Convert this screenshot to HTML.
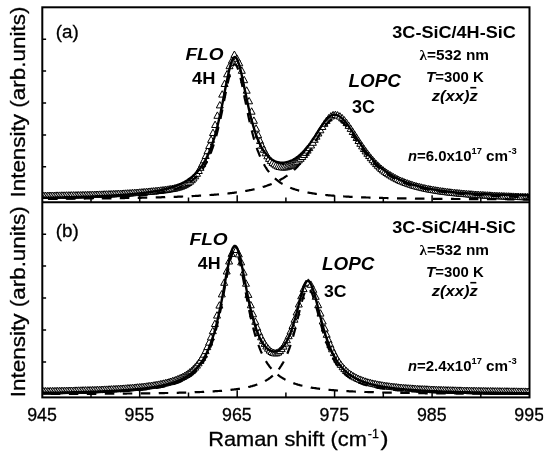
<!DOCTYPE html>
<html><head><meta charset="utf-8"><title>Raman spectra</title>
<style>html,body{margin:0;padding:0;background:#fff}svg{display:block}</style></head>
<body>
<svg width="550" height="459" viewBox="0 0 550 459">
<rect width="550" height="459" fill="#fff"/>
<defs><clipPath id="ca"><rect x="42.3" y="7.3" width="487.2" height="195.0"/></clipPath><clipPath id="cb"><rect x="42.3" y="202.35" width="487.2" height="195.0"/></clipPath><clipPath id="cr"><rect x="0" y="0" width="543.2" height="459"/></clipPath><path id="t" d="M-3.5,3.5L0,-2.9L3.5,3.5Z"/></defs>
<g clip-path="url(#ca)">
<g fill="#fff" stroke="#000" stroke-width="1" stroke-linejoin="miter"><use href="#t" x="42.2" y="195.0"/><use href="#t" x="43.9" y="195.0"/><use href="#t" x="45.6" y="195.0"/><use href="#t" x="47.4" y="195.0"/><use href="#t" x="49.1" y="194.9"/><use href="#t" x="50.9" y="194.9"/><use href="#t" x="52.6" y="194.9"/><use href="#t" x="54.3" y="194.9"/><use href="#t" x="56.1" y="194.8"/><use href="#t" x="57.8" y="194.8"/><use href="#t" x="59.6" y="194.8"/><use href="#t" x="61.3" y="194.7"/><use href="#t" x="63.0" y="194.7"/><use href="#t" x="64.8" y="194.7"/><use href="#t" x="66.5" y="194.6"/><use href="#t" x="68.3" y="194.6"/><use href="#t" x="70.0" y="194.6"/><use href="#t" x="71.7" y="194.5"/><use href="#t" x="73.5" y="194.5"/><use href="#t" x="75.2" y="194.5"/><use href="#t" x="77.0" y="194.4"/><use href="#t" x="78.7" y="194.4"/><use href="#t" x="80.4" y="194.4"/><use href="#t" x="82.2" y="194.3"/><use href="#t" x="83.9" y="194.3"/><use href="#t" x="85.7" y="194.2"/><use href="#t" x="87.4" y="194.2"/><use href="#t" x="89.1" y="194.1"/><use href="#t" x="90.9" y="194.1"/><use href="#t" x="92.6" y="194.0"/><use href="#t" x="94.4" y="194.0"/><use href="#t" x="96.1" y="193.9"/><use href="#t" x="97.8" y="193.9"/><use href="#t" x="99.6" y="193.8"/><use href="#t" x="101.3" y="193.8"/><use href="#t" x="103.1" y="193.7"/><use href="#t" x="104.8" y="193.6"/><use href="#t" x="106.5" y="193.6"/><use href="#t" x="108.3" y="193.5"/><use href="#t" x="110.0" y="193.4"/><use href="#t" x="111.8" y="193.4"/><use href="#t" x="113.5" y="193.3"/><use href="#t" x="115.2" y="193.2"/><use href="#t" x="117.0" y="193.1"/><use href="#t" x="118.7" y="193.0"/><use href="#t" x="120.5" y="193.0"/><use href="#t" x="122.2" y="192.9"/><use href="#t" x="123.9" y="192.8"/><use href="#t" x="125.7" y="192.7"/><use href="#t" x="127.4" y="192.6"/><use href="#t" x="129.2" y="192.5"/><use href="#t" x="130.9" y="192.4"/><use href="#t" x="132.6" y="192.2"/><use href="#t" x="134.4" y="192.1"/><use href="#t" x="136.1" y="192.0"/><use href="#t" x="137.9" y="191.9"/><use href="#t" x="139.6" y="191.7"/><use href="#t" x="141.3" y="191.6"/><use href="#t" x="143.1" y="191.4"/><use href="#t" x="144.8" y="191.3"/><use href="#t" x="146.6" y="191.1"/><use href="#t" x="148.3" y="191.0"/><use href="#t" x="150.0" y="190.8"/><use href="#t" x="151.8" y="190.6"/><use href="#t" x="153.5" y="190.5"/><use href="#t" x="155.3" y="190.3"/><use href="#t" x="157.0" y="190.1"/><use href="#t" x="158.7" y="189.9"/><use href="#t" x="160.5" y="189.7"/><use href="#t" x="162.2" y="189.5"/><use href="#t" x="164.0" y="189.3"/><use href="#t" x="165.7" y="189.1"/><use href="#t" x="167.4" y="188.8"/><use href="#t" x="169.2" y="188.5"/><use href="#t" x="170.9" y="188.2"/><use href="#t" x="172.7" y="187.9"/><use href="#t" x="174.4" y="187.6"/><use href="#t" x="176.1" y="187.2"/><use href="#t" x="177.9" y="186.7"/><use href="#t" x="179.6" y="186.2"/><use href="#t" x="181.4" y="185.6"/><use href="#t" x="183.1" y="184.9"/><use href="#t" x="184.8" y="184.1"/><use href="#t" x="186.6" y="183.1"/><use href="#t" x="188.3" y="182.0"/><use href="#t" x="190.1" y="180.7"/><use href="#t" x="191.8" y="179.2"/><use href="#t" x="193.5" y="177.5"/><use href="#t" x="195.3" y="175.3"/><use href="#t" x="197.0" y="172.8"/><use href="#t" x="198.8" y="170.0"/><use href="#t" x="200.5" y="166.8"/><use href="#t" x="202.2" y="163.2"/><use href="#t" x="204.0" y="159.3"/><use href="#t" x="205.7" y="155.0"/><use href="#t" x="207.5" y="150.2"/><use href="#t" x="209.2" y="145.0"/><use href="#t" x="211.1" y="138.9"/><use href="#t" x="213.0" y="132.0"/><use href="#t" x="215.1" y="124.0"/><use href="#t" x="217.4" y="114.8"/><use href="#t" x="219.8" y="104.4"/><use href="#t" x="222.2" y="93.6"/><use href="#t" x="224.6" y="83.0"/><use href="#t" x="227.1" y="73.3"/><use href="#t" x="229.5" y="65.2"/><use href="#t" x="232.0" y="59.5"/><use href="#t" x="234.4" y="53.9"/><use href="#t" x="236.9" y="57.8"/><use href="#t" x="239.3" y="62.3"/><use href="#t" x="241.8" y="69.8"/><use href="#t" x="244.2" y="79.2"/><use href="#t" x="246.7" y="89.7"/><use href="#t" x="249.1" y="100.3"/><use href="#t" x="251.6" y="110.7"/><use href="#t" x="253.9" y="119.8"/><use href="#t" x="256.1" y="127.7"/><use href="#t" x="258.2" y="134.3"/><use href="#t" x="260.1" y="140.0"/><use href="#t" x="262.0" y="144.8"/><use href="#t" x="263.8" y="148.8"/><use href="#t" x="265.5" y="152.3"/><use href="#t" x="267.3" y="155.3"/><use href="#t" x="269.0" y="157.9"/><use href="#t" x="270.8" y="160.1"/><use href="#t" x="272.5" y="161.9"/><use href="#t" x="274.3" y="163.3"/><use href="#t" x="276.0" y="164.5"/><use href="#t" x="277.8" y="165.4"/><use href="#t" x="279.5" y="166.0"/><use href="#t" x="281.3" y="166.3"/><use href="#t" x="283.0" y="166.5"/><use href="#t" x="284.8" y="166.4"/><use href="#t" x="286.6" y="166.2"/><use href="#t" x="288.3" y="165.7"/><use href="#t" x="290.1" y="165.1"/><use href="#t" x="291.8" y="164.3"/><use href="#t" x="293.6" y="163.3"/><use href="#t" x="295.3" y="162.2"/><use href="#t" x="297.1" y="160.9"/><use href="#t" x="298.8" y="159.4"/><use href="#t" x="300.6" y="157.8"/><use href="#t" x="302.3" y="156.0"/><use href="#t" x="304.1" y="154.0"/><use href="#t" x="305.8" y="151.9"/><use href="#t" x="307.6" y="149.6"/><use href="#t" x="309.3" y="147.1"/><use href="#t" x="311.1" y="144.5"/><use href="#t" x="312.9" y="141.8"/><use href="#t" x="314.7" y="138.8"/><use href="#t" x="316.5" y="135.7"/><use href="#t" x="318.4" y="132.5"/><use href="#t" x="320.4" y="129.3"/><use href="#t" x="322.4" y="126.0"/><use href="#t" x="324.5" y="122.8"/><use href="#t" x="326.6" y="119.9"/><use href="#t" x="328.7" y="117.4"/><use href="#t" x="330.9" y="115.5"/><use href="#t" x="333.1" y="114.3"/><use href="#t" x="335.4" y="114.0"/><use href="#t" x="337.6" y="114.5"/><use href="#t" x="339.9" y="115.6"/><use href="#t" x="342.1" y="117.3"/><use href="#t" x="344.3" y="119.5"/><use href="#t" x="346.5" y="122.1"/><use href="#t" x="348.6" y="124.9"/><use href="#t" x="350.7" y="127.9"/><use href="#t" x="352.7" y="131.0"/><use href="#t" x="354.7" y="134.0"/><use href="#t" x="356.6" y="137.0"/><use href="#t" x="358.5" y="140.0"/><use href="#t" x="360.3" y="142.8"/><use href="#t" x="362.1" y="145.4"/><use href="#t" x="363.9" y="148.0"/><use href="#t" x="365.6" y="150.4"/><use href="#t" x="367.4" y="152.8"/><use href="#t" x="369.1" y="155.0"/><use href="#t" x="370.8" y="157.2"/><use href="#t" x="372.6" y="159.2"/><use href="#t" x="374.3" y="161.2"/><use href="#t" x="376.1" y="163.1"/><use href="#t" x="377.8" y="164.8"/><use href="#t" x="379.5" y="166.5"/><use href="#t" x="381.3" y="168.1"/><use href="#t" x="383.0" y="169.5"/><use href="#t" x="384.8" y="170.8"/><use href="#t" x="386.5" y="172.0"/><use href="#t" x="388.2" y="173.2"/><use href="#t" x="390.0" y="174.3"/><use href="#t" x="391.7" y="175.4"/><use href="#t" x="393.5" y="176.4"/><use href="#t" x="395.2" y="177.3"/><use href="#t" x="396.9" y="178.2"/><use href="#t" x="398.7" y="179.1"/><use href="#t" x="400.4" y="179.9"/><use href="#t" x="402.2" y="180.6"/><use href="#t" x="403.9" y="181.3"/><use href="#t" x="405.6" y="182.0"/><use href="#t" x="407.4" y="182.6"/><use href="#t" x="409.1" y="183.2"/><use href="#t" x="410.9" y="183.8"/><use href="#t" x="412.6" y="184.4"/><use href="#t" x="414.3" y="184.9"/><use href="#t" x="416.1" y="185.4"/><use href="#t" x="417.8" y="185.9"/><use href="#t" x="419.6" y="186.3"/><use href="#t" x="421.3" y="186.7"/><use href="#t" x="423.0" y="187.2"/><use href="#t" x="424.8" y="187.5"/><use href="#t" x="426.5" y="187.9"/><use href="#t" x="428.3" y="188.3"/><use href="#t" x="430.0" y="188.6"/><use href="#t" x="431.7" y="188.9"/><use href="#t" x="433.5" y="189.2"/><use href="#t" x="435.2" y="189.5"/><use href="#t" x="437.0" y="189.8"/><use href="#t" x="438.7" y="190.1"/><use href="#t" x="440.4" y="190.4"/><use href="#t" x="442.2" y="190.6"/><use href="#t" x="443.9" y="190.8"/><use href="#t" x="445.7" y="191.1"/><use href="#t" x="447.4" y="191.3"/><use href="#t" x="449.1" y="191.5"/><use href="#t" x="450.9" y="191.7"/><use href="#t" x="452.6" y="191.9"/><use href="#t" x="454.4" y="192.1"/><use href="#t" x="456.1" y="192.3"/><use href="#t" x="457.8" y="192.4"/><use href="#t" x="459.6" y="192.6"/><use href="#t" x="461.3" y="192.8"/><use href="#t" x="463.1" y="192.9"/><use href="#t" x="464.8" y="193.1"/><use href="#t" x="466.5" y="193.2"/><use href="#t" x="468.3" y="193.4"/><use href="#t" x="470.0" y="193.5"/><use href="#t" x="471.8" y="193.6"/><use href="#t" x="473.5" y="193.8"/><use href="#t" x="475.2" y="193.9"/><use href="#t" x="477.0" y="194.0"/><use href="#t" x="478.7" y="194.1"/><use href="#t" x="480.5" y="194.2"/><use href="#t" x="482.2" y="194.3"/><use href="#t" x="483.9" y="194.4"/><use href="#t" x="485.7" y="194.6"/><use href="#t" x="487.4" y="194.6"/><use href="#t" x="489.2" y="194.7"/><use href="#t" x="490.9" y="194.8"/><use href="#t" x="492.6" y="194.9"/><use href="#t" x="494.4" y="195.0"/><use href="#t" x="496.1" y="195.1"/><use href="#t" x="497.9" y="195.2"/><use href="#t" x="499.6" y="195.3"/><use href="#t" x="501.3" y="195.3"/><use href="#t" x="503.1" y="195.4"/><use href="#t" x="504.8" y="195.5"/><use href="#t" x="506.6" y="195.6"/><use href="#t" x="508.3" y="195.6"/><use href="#t" x="510.0" y="195.7"/><use href="#t" x="511.8" y="195.8"/><use href="#t" x="513.5" y="195.8"/><use href="#t" x="515.3" y="195.9"/><use href="#t" x="517.0" y="195.9"/><use href="#t" x="518.7" y="196.0"/><use href="#t" x="520.5" y="196.1"/><use href="#t" x="522.2" y="196.1"/><use href="#t" x="524.0" y="196.2"/><use href="#t" x="525.7" y="196.2"/><use href="#t" x="527.4" y="196.3"/><use href="#t" x="529.2" y="196.3"/></g>
<path d="M42.3,198.7 L42.9,198.7 L43.5,198.7 L44.1,198.7 L44.7,198.7 L45.3,198.7 L46.0,198.7 L46.6,198.7 L47.2,198.6 L47.8,198.6 L48.4,198.6 L49.0,198.6 L49.6,198.6 L50.2,198.6 L50.8,198.6 L51.4,198.6 L52.1,198.6 L52.7,198.6 L53.3,198.6 L53.9,198.6 L54.5,198.5 L55.1,198.5 L55.7,198.5 L56.3,198.5 L56.9,198.5 L57.5,198.5 L58.2,198.5 L58.8,198.5 L59.4,198.5 L60.0,198.5 L60.6,198.5 L61.2,198.5 L61.8,198.4 L62.4,198.4 L63.0,198.4 L63.6,198.4 L64.3,198.4 L64.9,198.4 L65.5,198.4 L66.1,198.4 L66.7,198.4 L67.3,198.4 L67.9,198.3 L68.5,198.3 L69.1,198.3 L69.7,198.3 L70.3,198.3 L71.0,198.3 L71.6,198.3 L72.2,198.3 L72.8,198.3 L73.4,198.2 L74.0,198.2 L74.6,198.2 L75.2,198.2 L75.8,198.2 L76.4,198.2 L77.1,198.2 L77.7,198.2 L78.3,198.1 L78.9,198.1 L79.5,198.1 L80.1,198.1 L80.7,198.1 L81.3,198.1 L81.9,198.1 L82.5,198.1 L83.2,198.0 L83.8,198.0 L84.4,198.0 L85.0,198.0 L85.6,198.0 L86.2,198.0 L86.8,197.9 L87.4,197.9 L88.0,197.9 L88.6,197.9 L89.3,197.9 L89.9,197.9 L90.5,197.9 L91.1,197.8 L91.7,197.8 L92.3,197.8 L92.9,197.8 L93.5,197.8 L94.1,197.8 L94.7,197.7 L95.3,197.7 L96.0,197.7 L96.6,197.7 L97.2,197.7 L97.8,197.6 L98.4,197.6 L99.0,197.6 L99.6,197.6 L100.2,197.6 L100.8,197.5 L101.4,197.5 L102.1,197.5 L102.7,197.5 L103.3,197.5 L103.9,197.4 L104.5,197.4 L105.1,197.4 L105.7,197.4 L106.3,197.4 L106.9,197.3 L107.5,197.3 L108.2,197.3 L108.8,197.3 L109.4,197.2 L110.0,197.2 L110.6,197.2 L111.2,197.2 L111.8,197.1 L112.4,197.1 L113.0,197.1 L113.6,197.1 L114.3,197.0 L114.9,197.0 L115.5,197.0 L116.1,196.9 L116.7,196.9 L117.3,196.9 L117.9,196.9 L118.5,196.8 L119.1,196.8 L119.7,196.8 L120.3,196.7 L121.0,196.7 L121.6,196.7 L122.2,196.6 L122.8,196.6 L123.4,196.6 L124.0,196.5 L124.6,196.5 L125.2,196.5 L125.8,196.4 L126.4,196.4 L127.1,196.3 L127.7,196.3 L128.3,196.3 L128.9,196.2 L129.5,196.2 L130.1,196.2 L130.7,196.1 L131.3,196.1 L131.9,196.0 L132.5,196.0 L133.2,195.9 L133.8,195.9 L134.4,195.8 L135.0,195.8 L135.6,195.7 L136.2,195.7 L136.8,195.6 L137.4,195.6 L138.0,195.5 L138.6,195.5 L139.3,195.4 L139.9,195.4 L140.5,195.3 L141.1,195.3 L141.7,195.2 L142.3,195.2 L142.9,195.1 L143.5,195.0 L144.1,195.0 L144.7,194.9 L145.3,194.8 L146.0,194.8 L146.6,194.7 L147.2,194.6 L147.8,194.6 L148.4,194.5 L149.0,194.4 L149.6,194.4 L150.2,194.3 L150.8,194.2 L151.4,194.1 L152.1,194.0 L152.7,194.0 L153.3,193.9 L153.9,193.8 L154.5,193.7 L155.1,193.6 L155.7,193.5 L156.3,193.4 L156.9,193.3 L157.5,193.2 L158.2,193.1 L158.8,193.0 L159.4,192.9 L160.0,192.8 L160.6,192.7 L161.2,192.6 L161.8,192.5 L162.4,192.4 L163.0,192.3 L163.6,192.1 L164.3,192.0 L164.9,191.9 L165.5,191.7 L166.1,191.6 L166.7,191.5 L167.3,191.3 L167.9,191.2 L168.5,191.0 L169.1,190.9 L169.7,190.7 L170.4,190.6 L171.0,190.4 L171.6,190.2 L172.2,190.1 L172.8,189.9 L173.4,189.7 L174.0,189.5 L174.6,189.3 L175.2,189.1 L175.8,188.9 L176.4,188.7 L177.1,188.5 L177.7,188.3 L178.3,188.0 L178.9,187.8 L179.5,187.6 L180.1,187.3 L180.7,187.0 L181.3,186.8 L181.9,186.5 L182.5,186.2 L183.2,185.9 L183.8,185.6 L184.4,185.3 L185.0,185.0 L185.6,184.7 L186.2,184.3 L186.8,184.0 L187.4,183.6 L188.0,183.3 L188.6,182.9 L189.3,182.5 L189.9,182.1 L190.5,181.6 L191.1,181.2 L191.7,180.7 L192.3,180.3 L192.9,179.8 L193.5,179.3 L194.1,178.7 L194.7,178.2 L195.4,177.6 L196.0,177.1 L196.6,176.4 L197.2,175.8 L197.8,175.2 L198.4,174.5 L199.0,173.8 L199.6,173.0 L200.2,172.3 L200.8,171.5 L201.4,170.7 L202.1,169.8 L202.7,168.9 L203.3,168.0 L203.9,167.0 L204.5,166.0 L205.1,165.0 L205.7,163.9 L206.3,162.8 L206.9,161.6 L207.5,160.4 L208.2,159.1 L208.8,157.7 L209.4,156.3 L210.0,154.9 L210.6,153.4 L211.2,151.8 L211.8,150.2 L212.4,148.5 L213.0,146.7 L213.6,144.8 L214.3,142.9 L214.9,140.9 L215.5,138.8 L216.1,136.6 L216.7,134.4 L217.3,132.0 L217.9,129.6 L218.5,127.1 L219.1,124.5 L219.7,121.9 L220.4,119.1 L221.0,116.3 L221.6,113.5 L222.2,110.5 L222.8,107.5 L223.4,104.5 L224.0,101.4 L224.6,98.4 L225.2,95.3 L225.8,92.2 L226.4,89.2 L227.1,86.2 L227.7,83.3 L228.3,80.5 L228.9,77.9 L229.5,75.4 L230.1,73.1 L230.7,71.0 L231.3,69.2 L231.9,67.6 L232.5,66.3 L233.2,65.4 L233.8,64.7 L234.4,64.3 L235.0,64.3 L235.6,64.7 L236.2,65.3 L236.8,66.3 L237.4,67.5 L238.0,69.1 L238.6,70.9 L239.3,73.0 L239.9,75.3 L240.5,77.7 L241.1,80.4 L241.7,83.1 L242.3,86.0 L242.9,89.0 L243.5,92.0 L244.1,95.1 L244.7,98.2 L245.4,101.2 L246.0,104.3 L246.6,107.3 L247.2,110.3 L247.8,113.3 L248.4,116.2 L249.0,119.0 L249.6,121.7 L250.2,124.4 L250.8,127.0 L251.4,129.5 L252.1,131.9 L252.7,134.2 L253.3,136.5 L253.9,138.7 L254.5,140.7 L255.1,142.8 L255.7,144.7 L256.3,146.6 L256.9,148.3 L257.5,150.1 L258.2,151.7 L258.8,153.3 L259.4,154.8 L260.0,156.3 L260.6,157.7 L261.2,159.0 L261.8,160.3 L262.4,161.5 L263.0,162.7 L263.6,163.8 L264.3,164.9 L264.9,166.0 L265.5,167.0 L266.1,167.9 L266.7,168.9 L267.3,169.8 L267.9,170.6 L268.5,171.4 L269.1,172.2 L269.7,173.0 L270.4,173.7 L271.0,174.4 L271.6,175.1 L272.2,175.8 L272.8,176.4 L273.4,177.0 L274.0,177.6 L274.6,178.2 L275.2,178.7 L275.8,179.2 L276.4,179.7 L277.1,180.2 L277.7,180.7 L278.3,181.2 L278.9,181.6 L279.5,182.0 L280.1,182.5 L280.7,182.9 L281.3,183.2 L281.9,183.6 L282.5,184.0 L283.2,184.3 L283.8,184.7 L284.4,185.0 L285.0,185.3 L285.6,185.6 L286.2,185.9 L286.8,186.2 L287.4,186.5 L288.0,186.8 L288.6,187.0 L289.3,187.3 L289.9,187.5 L290.5,187.8 L291.1,188.0 L291.7,188.2 L292.3,188.5 L292.9,188.7 L293.5,188.9 L294.1,189.1 L294.7,189.3 L295.4,189.5 L296.0,189.7 L296.6,189.9 L297.2,190.0 L297.8,190.2 L298.4,190.4 L299.0,190.6 L299.6,190.7 L300.2,190.9 L300.8,191.0 L301.4,191.2 L302.1,191.3 L302.7,191.5 L303.3,191.6 L303.9,191.7 L304.5,191.9 L305.1,192.0 L305.7,192.1 L306.3,192.2 L306.9,192.4 L307.5,192.5 L308.2,192.6 L308.8,192.7 L309.4,192.8 L310.0,192.9 L310.6,193.0 L311.2,193.1 L311.8,193.2 L312.4,193.3 L313.0,193.4 L313.6,193.5 L314.3,193.6 L314.9,193.7 L315.5,193.8 L316.1,193.9 L316.7,194.0 L317.3,194.0 L317.9,194.1 L318.5,194.2 L319.1,194.3 L319.7,194.4 L320.4,194.4 L321.0,194.5 L321.6,194.6 L322.2,194.6 L322.8,194.7 L323.4,194.8 L324.0,194.8 L324.6,194.9 L325.2,195.0 L325.8,195.0 L326.4,195.1 L327.1,195.2 L327.7,195.2 L328.3,195.3 L328.9,195.3 L329.5,195.4 L330.1,195.4 L330.7,195.5 L331.3,195.5 L331.9,195.6 L332.5,195.6 L333.2,195.7 L333.8,195.7 L334.4,195.8 L335.0,195.8 L335.6,195.9 L336.2,195.9 L336.8,196.0 L337.4,196.0 L338.0,196.1 L338.6,196.1 L339.3,196.1 L339.9,196.2 L340.5,196.2 L341.1,196.3 L341.7,196.3 L342.3,196.3 L342.9,196.4 L343.5,196.4 L344.1,196.5 L344.7,196.5 L345.4,196.5 L346.0,196.6 L346.6,196.6 L347.2,196.6 L347.8,196.7 L348.4,196.7 L349.0,196.7 L349.6,196.8 L350.2,196.8 L350.8,196.8 L351.4,196.9 L352.1,196.9 L352.7,196.9 L353.3,196.9 L353.9,197.0 L354.5,197.0 L355.1,197.0 L355.7,197.1 L356.3,197.1 L356.9,197.1 L357.5,197.1 L358.2,197.2 L358.8,197.2 L359.4,197.2 L360.0,197.2 L360.6,197.3 L361.2,197.3 L361.8,197.3 L362.4,197.3 L363.0,197.4 L363.6,197.4 L364.3,197.4 L364.9,197.4 L365.5,197.4 L366.1,197.5 L366.7,197.5 L367.3,197.5 L367.9,197.5 L368.5,197.5 L369.1,197.6 L369.7,197.6 L370.4,197.6 L371.0,197.6 L371.6,197.6 L372.2,197.7 L372.8,197.7 L373.4,197.7 L374.0,197.7 L374.6,197.7 L375.2,197.8 L375.8,197.8 L376.4,197.8 L377.1,197.8 L377.7,197.8 L378.3,197.8 L378.9,197.9 L379.5,197.9 L380.1,197.9 L380.7,197.9 L381.3,197.9 L381.9,197.9 L382.5,197.9 L383.2,198.0 L383.8,198.0 L384.4,198.0 L385.0,198.0 L385.6,198.0 L386.2,198.0 L386.8,198.0 L387.4,198.1 L388.0,198.1 L388.6,198.1 L389.3,198.1 L389.9,198.1 L390.5,198.1 L391.1,198.1 L391.7,198.2 L392.3,198.2 L392.9,198.2 L393.5,198.2 L394.1,198.2 L394.7,198.2 L395.4,198.2 L396.0,198.2 L396.6,198.3 L397.2,198.3 L397.8,198.3 L398.4,198.3 L399.0,198.3 L399.6,198.3 L400.2,198.3 L400.8,198.3 L401.4,198.3 L402.1,198.4 L402.7,198.4 L403.3,198.4 L403.9,198.4 L404.5,198.4 L405.1,198.4 L405.7,198.4 L406.3,198.4 L406.9,198.4 L407.5,198.4 L408.2,198.5 L408.8,198.5 L409.4,198.5 L410.0,198.5 L410.6,198.5 L411.2,198.5 L411.8,198.5 L412.4,198.5 L413.0,198.5 L413.6,198.5 L414.3,198.5 L414.9,198.5 L415.5,198.6 L416.1,198.6 L416.7,198.6 L417.3,198.6 L417.9,198.6 L418.5,198.6 L419.1,198.6 L419.7,198.6 L420.4,198.6 L421.0,198.6 L421.6,198.6 L422.2,198.6 L422.8,198.7 L423.4,198.7 L424.0,198.7 L424.6,198.7 L425.2,198.7 L425.8,198.7 L426.5,198.7 L427.1,198.7 L427.7,198.7 L428.3,198.7 L428.9,198.7 L429.5,198.7 L430.1,198.7 L430.7,198.7 L431.3,198.7 L431.9,198.8 L432.5,198.8 L433.2,198.8 L433.8,198.8 L434.4,198.8 L435.0,198.8 L435.6,198.8 L436.2,198.8 L436.8,198.8 L437.4,198.8 L438.0,198.8 L438.6,198.8 L439.3,198.8 L439.9,198.8 L440.5,198.8 L441.1,198.8 L441.7,198.8 L442.3,198.9 L442.9,198.9 L443.5,198.9 L444.1,198.9 L444.7,198.9 L445.4,198.9 L446.0,198.9 L446.6,198.9 L447.2,198.9 L447.8,198.9 L448.4,198.9 L449.0,198.9 L449.6,198.9 L450.2,198.9 L450.8,198.9 L451.5,198.9 L452.1,198.9 L452.7,198.9 L453.3,198.9 L453.9,199.0 L454.5,199.0 L455.1,199.0 L455.7,199.0 L456.3,199.0 L456.9,199.0 L457.5,199.0 L458.2,199.0 L458.8,199.0 L459.4,199.0 L460.0,199.0 L460.6,199.0 L461.2,199.0 L461.8,199.0 L462.4,199.0 L463.0,199.0 L463.6,199.0 L464.3,199.0 L464.9,199.0 L465.5,199.0 L466.1,199.0 L466.7,199.0 L467.3,199.0 L467.9,199.0 L468.5,199.1 L469.1,199.1 L469.7,199.1 L470.4,199.1 L471.0,199.1 L471.6,199.1 L472.2,199.1 L472.8,199.1 L473.4,199.1 L474.0,199.1 L474.6,199.1 L475.2,199.1 L475.8,199.1 L476.5,199.1 L477.1,199.1 L477.7,199.1 L478.3,199.1 L478.9,199.1 L479.5,199.1 L480.1,199.1 L480.7,199.1 L481.3,199.1 L481.9,199.1 L482.5,199.1 L483.2,199.1 L483.8,199.1 L484.4,199.1 L485.0,199.1 L485.6,199.2 L486.2,199.2 L486.8,199.2 L487.4,199.2 L488.0,199.2 L488.6,199.2 L489.3,199.2 L489.9,199.2 L490.5,199.2 L491.1,199.2 L491.7,199.2 L492.3,199.2 L492.9,199.2 L493.5,199.2 L494.1,199.2 L494.7,199.2 L495.4,199.2 L496.0,199.2 L496.6,199.2 L497.2,199.2 L497.8,199.2 L498.4,199.2 L499.0,199.2 L499.6,199.2 L500.2,199.2 L500.8,199.2 L501.5,199.2 L502.1,199.2 L502.7,199.2 L503.3,199.2 L503.9,199.2 L504.5,199.2 L505.1,199.2 L505.7,199.2 L506.3,199.2 L506.9,199.2 L507.5,199.3 L508.2,199.3 L508.8,199.3 L509.4,199.3 L510.0,199.3 L510.6,199.3 L511.2,199.3 L511.8,199.3 L512.4,199.3 L513.0,199.3 L513.6,199.3 L514.3,199.3 L514.9,199.3 L515.5,199.3 L516.1,199.3 L516.7,199.3 L517.3,199.3 L517.9,199.3 L518.5,199.3 L519.1,199.3 L519.7,199.3 L520.4,199.3 L521.0,199.3 L521.6,199.3 L522.2,199.3 L522.8,199.3 L523.4,199.3 L524.0,199.3 L524.6,199.3 L525.2,199.3 L525.8,199.3 L526.5,199.3 L527.1,199.3 L527.7,199.3 L528.3,199.3 L528.9,199.3 L529.5,199.3" fill="none" stroke="#000" stroke-width="2.2" stroke-dasharray="9.5,8.5" stroke-dashoffset="11.75"/>
<path d="M42.3,198.9 L42.9,198.9 L43.5,198.9 L44.1,198.9 L44.7,198.9 L45.3,198.9 L46.0,198.9 L46.6,198.9 L47.2,198.9 L47.8,198.9 L48.4,198.8 L49.0,198.8 L49.6,198.8 L50.2,198.8 L50.8,198.8 L51.4,198.8 L52.1,198.8 L52.7,198.8 L53.3,198.8 L53.9,198.8 L54.5,198.8 L55.1,198.8 L55.7,198.8 L56.3,198.8 L56.9,198.8 L57.5,198.8 L58.2,198.8 L58.8,198.8 L59.4,198.8 L60.0,198.8 L60.6,198.8 L61.2,198.8 L61.8,198.8 L62.4,198.8 L63.0,198.7 L63.6,198.7 L64.3,198.7 L64.9,198.7 L65.5,198.7 L66.1,198.7 L66.7,198.7 L67.3,198.7 L67.9,198.7 L68.5,198.7 L69.1,198.7 L69.7,198.7 L70.3,198.7 L71.0,198.7 L71.6,198.7 L72.2,198.7 L72.8,198.7 L73.4,198.7 L74.0,198.7 L74.6,198.7 L75.2,198.6 L75.8,198.6 L76.4,198.6 L77.1,198.6 L77.7,198.6 L78.3,198.6 L78.9,198.6 L79.5,198.6 L80.1,198.6 L80.7,198.6 L81.3,198.6 L81.9,198.6 L82.5,198.6 L83.2,198.6 L83.8,198.6 L84.4,198.6 L85.0,198.6 L85.6,198.5 L86.2,198.5 L86.8,198.5 L87.4,198.5 L88.0,198.5 L88.6,198.5 L89.3,198.5 L89.9,198.5 L90.5,198.5 L91.1,198.5 L91.7,198.5 L92.3,198.5 L92.9,198.5 L93.5,198.5 L94.1,198.5 L94.7,198.5 L95.3,198.4 L96.0,198.4 L96.6,198.4 L97.2,198.4 L97.8,198.4 L98.4,198.4 L99.0,198.4 L99.6,198.4 L100.2,198.4 L100.8,198.4 L101.4,198.4 L102.1,198.4 L102.7,198.4 L103.3,198.4 L103.9,198.3 L104.5,198.3 L105.1,198.3 L105.7,198.3 L106.3,198.3 L106.9,198.3 L107.5,198.3 L108.2,198.3 L108.8,198.3 L109.4,198.3 L110.0,198.3 L110.6,198.3 L111.2,198.3 L111.8,198.2 L112.4,198.2 L113.0,198.2 L113.6,198.2 L114.3,198.2 L114.9,198.2 L115.5,198.2 L116.1,198.2 L116.7,198.2 L117.3,198.2 L117.9,198.2 L118.5,198.1 L119.1,198.1 L119.7,198.1 L120.3,198.1 L121.0,198.1 L121.6,198.1 L122.2,198.1 L122.8,198.1 L123.4,198.1 L124.0,198.1 L124.6,198.1 L125.2,198.0 L125.8,198.0 L126.4,198.0 L127.1,198.0 L127.7,198.0 L128.3,198.0 L128.9,198.0 L129.5,198.0 L130.1,198.0 L130.7,197.9 L131.3,197.9 L131.9,197.9 L132.5,197.9 L133.2,197.9 L133.8,197.9 L134.4,197.9 L135.0,197.9 L135.6,197.9 L136.2,197.8 L136.8,197.8 L137.4,197.8 L138.0,197.8 L138.6,197.8 L139.3,197.8 L139.9,197.8 L140.5,197.8 L141.1,197.8 L141.7,197.7 L142.3,197.7 L142.9,197.7 L143.5,197.7 L144.1,197.7 L144.7,197.7 L145.3,197.7 L146.0,197.6 L146.6,197.6 L147.2,197.6 L147.8,197.6 L148.4,197.6 L149.0,197.6 L149.6,197.6 L150.2,197.5 L150.8,197.5 L151.4,197.5 L152.1,197.5 L152.7,197.5 L153.3,197.5 L153.9,197.5 L154.5,197.4 L155.1,197.4 L155.7,197.4 L156.3,197.4 L156.9,197.4 L157.5,197.4 L158.2,197.3 L158.8,197.3 L159.4,197.3 L160.0,197.3 L160.6,197.3 L161.2,197.3 L161.8,197.2 L162.4,197.2 L163.0,197.2 L163.6,197.2 L164.3,197.2 L164.9,197.2 L165.5,197.1 L166.1,197.1 L166.7,197.1 L167.3,197.1 L167.9,197.1 L168.5,197.0 L169.1,197.0 L169.7,197.0 L170.4,197.0 L171.0,197.0 L171.6,196.9 L172.2,196.9 L172.8,196.9 L173.4,196.9 L174.0,196.9 L174.6,196.8 L175.2,196.8 L175.8,196.8 L176.4,196.8 L177.1,196.8 L177.7,196.7 L178.3,196.7 L178.9,196.7 L179.5,196.7 L180.1,196.6 L180.7,196.6 L181.3,196.6 L181.9,196.6 L182.5,196.5 L183.2,196.5 L183.8,196.5 L184.4,196.5 L185.0,196.4 L185.6,196.4 L186.2,196.4 L186.8,196.4 L187.4,196.3 L188.0,196.3 L188.6,196.3 L189.3,196.2 L189.9,196.2 L190.5,196.2 L191.1,196.2 L191.7,196.1 L192.3,196.1 L192.9,196.1 L193.5,196.0 L194.1,196.0 L194.7,196.0 L195.4,195.9 L196.0,195.9 L196.6,195.9 L197.2,195.8 L197.8,195.8 L198.4,195.8 L199.0,195.7 L199.6,195.7 L200.2,195.7 L200.8,195.6 L201.4,195.6 L202.1,195.6 L202.7,195.5 L203.3,195.5 L203.9,195.4 L204.5,195.4 L205.1,195.4 L205.7,195.3 L206.3,195.3 L206.9,195.2 L207.5,195.2 L208.2,195.2 L208.8,195.1 L209.4,195.1 L210.0,195.0 L210.6,195.0 L211.2,194.9 L211.8,194.9 L212.4,194.9 L213.0,194.8 L213.6,194.8 L214.3,194.7 L214.9,194.7 L215.5,194.6 L216.1,194.6 L216.7,194.5 L217.3,194.5 L217.9,194.4 L218.5,194.4 L219.1,194.3 L219.7,194.3 L220.4,194.2 L221.0,194.1 L221.6,194.1 L222.2,194.0 L222.8,194.0 L223.4,193.9 L224.0,193.9 L224.6,193.8 L225.2,193.7 L225.8,193.7 L226.4,193.6 L227.1,193.5 L227.7,193.5 L228.3,193.4 L228.9,193.3 L229.5,193.3 L230.1,193.2 L230.7,193.1 L231.3,193.1 L231.9,193.0 L232.5,192.9 L233.2,192.8 L233.8,192.8 L234.4,192.7 L235.0,192.6 L235.6,192.5 L236.2,192.4 L236.8,192.3 L237.4,192.3 L238.0,192.2 L238.6,192.1 L239.3,192.0 L239.9,191.9 L240.5,191.8 L241.1,191.7 L241.7,191.6 L242.3,191.5 L242.9,191.4 L243.5,191.3 L244.1,191.2 L244.7,191.1 L245.4,191.0 L246.0,190.9 L246.6,190.8 L247.2,190.7 L247.8,190.6 L248.4,190.5 L249.0,190.3 L249.6,190.2 L250.2,190.1 L250.8,190.0 L251.4,189.9 L252.1,189.7 L252.7,189.6 L253.3,189.5 L253.9,189.3 L254.5,189.2 L255.1,189.0 L255.7,188.9 L256.3,188.8 L256.9,188.6 L257.5,188.5 L258.2,188.3 L258.8,188.1 L259.4,188.0 L260.0,187.8 L260.6,187.6 L261.2,187.5 L261.8,187.3 L262.4,187.1 L263.0,186.9 L263.6,186.8 L264.3,186.6 L264.9,186.4 L265.5,186.2 L266.1,186.0 L266.7,185.8 L267.3,185.6 L267.9,185.3 L268.5,185.1 L269.1,184.9 L269.7,184.7 L270.4,184.4 L271.0,184.2 L271.6,184.0 L272.2,183.7 L272.8,183.5 L273.4,183.2 L274.0,182.9 L274.6,182.7 L275.2,182.4 L275.8,182.1 L276.4,181.8 L277.1,181.5 L277.7,181.2 L278.3,180.9 L278.9,180.6 L279.5,180.3 L280.1,179.9 L280.7,179.6 L281.3,179.3 L281.9,178.9 L282.5,178.5 L283.2,178.2 L283.8,177.8 L284.4,177.4 L285.0,177.0 L285.6,176.6 L286.2,176.2 L286.8,175.8 L287.4,175.3 L288.0,174.9 L288.6,174.4 L289.3,174.0 L289.9,173.5 L290.5,173.0 L291.1,172.5 L291.7,172.0 L292.3,171.5 L292.9,170.9 L293.5,170.4 L294.1,169.8 L294.7,169.3 L295.4,168.7 L296.0,168.1 L296.6,167.5 L297.2,166.9 L297.8,166.2 L298.4,165.6 L299.0,164.9 L299.6,164.2 L300.2,163.5 L300.8,162.8 L301.4,162.1 L302.1,161.3 L302.7,160.6 L303.3,159.8 L303.9,159.0 L304.5,158.2 L305.1,157.4 L305.7,156.5 L306.3,155.7 L306.9,154.8 L307.5,153.9 L308.2,153.0 L308.8,152.1 L309.4,151.2 L310.0,150.3 L310.6,149.3 L311.2,148.4 L311.8,147.4 L312.4,146.4 L313.0,145.4 L313.6,144.4 L314.3,143.4 L314.9,142.4 L315.5,141.4 L316.1,140.3 L316.7,139.3 L317.3,138.3 L317.9,137.2 L318.5,136.2 L319.1,135.2 L319.7,134.2 L320.4,133.2 L321.0,132.2 L321.6,131.2 L322.2,130.3 L322.8,129.3 L323.4,128.4 L324.0,127.5 L324.6,126.6 L325.2,125.8 L325.8,125.0 L326.4,124.2 L327.1,123.5 L327.7,122.8 L328.3,122.2 L328.9,121.6 L329.5,121.1 L330.1,120.6 L330.7,120.1 L331.3,119.7 L331.9,119.4 L332.5,119.2 L333.2,119.0 L333.8,118.8 L334.4,118.7 L335.0,118.7 L335.6,118.7 L336.2,118.8 L336.8,118.9 L337.4,119.1 L338.0,119.3 L338.6,119.6 L339.3,119.9 L339.9,120.3 L340.5,120.7 L341.1,121.1 L341.7,121.6 L342.3,122.1 L342.9,122.6 L343.5,123.2 L344.1,123.8 L344.7,124.5 L345.4,125.2 L346.0,125.9 L346.6,126.6 L347.2,127.4 L347.8,128.1 L348.4,128.9 L349.0,129.8 L349.6,130.6 L350.2,131.4 L350.8,132.3 L351.4,133.2 L352.1,134.1 L352.7,134.9 L353.3,135.8 L353.9,136.7 L354.5,137.6 L355.1,138.5 L355.7,139.5 L356.3,140.4 L356.9,141.3 L357.5,142.2 L358.2,143.1 L358.8,143.9 L359.4,144.8 L360.0,145.7 L360.6,146.6 L361.2,147.4 L361.8,148.3 L362.4,149.1 L363.0,150.0 L363.6,150.8 L364.3,151.6 L364.9,152.4 L365.5,153.2 L366.1,154.0 L366.7,154.8 L367.3,155.6 L367.9,156.3 L368.5,157.0 L369.1,157.8 L369.7,158.5 L370.4,159.2 L371.0,159.9 L371.6,160.6 L372.2,161.2 L372.8,161.9 L373.4,162.5 L374.0,163.2 L374.6,163.8 L375.2,164.4 L375.8,165.0 L376.4,165.6 L377.1,166.2 L377.7,166.7 L378.3,167.3 L378.9,167.8 L379.5,168.3 L380.1,168.9 L380.7,169.4 L381.3,169.9 L381.9,170.4 L382.5,170.9 L383.2,171.3 L383.8,171.8 L384.4,172.2 L385.0,172.7 L385.6,173.1 L386.2,173.5 L386.8,174.0 L387.4,174.4 L388.0,174.8 L388.6,175.2 L389.3,175.5 L389.9,175.9 L390.5,176.3 L391.1,176.7 L391.7,177.0 L392.3,177.4 L392.9,177.7 L393.5,178.0 L394.1,178.4 L394.7,178.7 L395.4,179.0 L396.0,179.3 L396.6,179.6 L397.2,179.9 L397.8,180.2 L398.4,180.5 L399.0,180.8 L399.6,181.0 L400.2,181.3 L400.8,181.6 L401.4,181.8 L402.1,182.1 L402.7,182.3 L403.3,182.6 L403.9,182.8 L404.5,183.1 L405.1,183.3 L405.7,183.5 L406.3,183.7 L406.9,184.0 L407.5,184.2 L408.2,184.4 L408.8,184.6 L409.4,184.8 L410.0,185.0 L410.6,185.2 L411.2,185.4 L411.8,185.6 L412.4,185.7 L413.0,185.9 L413.6,186.1 L414.3,186.3 L414.9,186.4 L415.5,186.6 L416.1,186.8 L416.7,186.9 L417.3,187.1 L417.9,187.3 L418.5,187.4 L419.1,187.6 L419.7,187.7 L420.4,187.9 L421.0,188.0 L421.6,188.1 L422.2,188.3 L422.8,188.4 L423.4,188.6 L424.0,188.7 L424.6,188.8 L425.2,188.9 L425.8,189.1 L426.5,189.2 L427.1,189.3 L427.7,189.4 L428.3,189.6 L428.9,189.7 L429.5,189.8 L430.1,189.9 L430.7,190.0 L431.3,190.1 L431.9,190.2 L432.5,190.3 L433.2,190.4 L433.8,190.5 L434.4,190.6 L435.0,190.7 L435.6,190.8 L436.2,190.9 L436.8,191.0 L437.4,191.1 L438.0,191.2 L438.6,191.3 L439.3,191.4 L439.9,191.5 L440.5,191.6 L441.1,191.6 L441.7,191.7 L442.3,191.8 L442.9,191.9 L443.5,192.0 L444.1,192.1 L444.7,192.1 L445.4,192.2 L446.0,192.3 L446.6,192.4 L447.2,192.4 L447.8,192.5 L448.4,192.6 L449.0,192.6 L449.6,192.7 L450.2,192.8 L450.8,192.8 L451.5,192.9 L452.1,193.0 L452.7,193.0 L453.3,193.1 L453.9,193.2 L454.5,193.2 L455.1,193.3 L455.7,193.4 L456.3,193.4 L456.9,193.5 L457.5,193.5 L458.2,193.6 L458.8,193.6 L459.4,193.7 L460.0,193.8 L460.6,193.8 L461.2,193.9 L461.8,193.9 L462.4,194.0 L463.0,194.0 L463.6,194.1 L464.3,194.1 L464.9,194.2 L465.5,194.2 L466.1,194.3 L466.7,194.3 L467.3,194.4 L467.9,194.4 L468.5,194.5 L469.1,194.5 L469.7,194.5 L470.4,194.6 L471.0,194.6 L471.6,194.7 L472.2,194.7 L472.8,194.8 L473.4,194.8 L474.0,194.8 L474.6,194.9 L475.2,194.9 L475.8,195.0 L476.5,195.0 L477.1,195.0 L477.7,195.1 L478.3,195.1 L478.9,195.2 L479.5,195.2 L480.1,195.2 L480.7,195.3 L481.3,195.3 L481.9,195.3 L482.5,195.4 L483.2,195.4 L483.8,195.4 L484.4,195.5 L485.0,195.5 L485.6,195.5 L486.2,195.6 L486.8,195.6 L487.4,195.6 L488.0,195.7 L488.6,195.7 L489.3,195.7 L489.9,195.8 L490.5,195.8 L491.1,195.8 L491.7,195.8 L492.3,195.9 L492.9,195.9 L493.5,195.9 L494.1,196.0 L494.7,196.0 L495.4,196.0 L496.0,196.0 L496.6,196.1 L497.2,196.1 L497.8,196.1 L498.4,196.1 L499.0,196.2 L499.6,196.2 L500.2,196.2 L500.8,196.3 L501.5,196.3 L502.1,196.3 L502.7,196.3 L503.3,196.3 L503.9,196.4 L504.5,196.4 L505.1,196.4 L505.7,196.4 L506.3,196.5 L506.9,196.5 L507.5,196.5 L508.2,196.5 L508.8,196.6 L509.4,196.6 L510.0,196.6 L510.6,196.6 L511.2,196.6 L511.8,196.7 L512.4,196.7 L513.0,196.7 L513.6,196.7 L514.3,196.7 L514.9,196.8 L515.5,196.8 L516.1,196.8 L516.7,196.8 L517.3,196.8 L517.9,196.9 L518.5,196.9 L519.1,196.9 L519.7,196.9 L520.4,196.9 L521.0,197.0 L521.6,197.0 L522.2,197.0 L522.8,197.0 L523.4,197.0 L524.0,197.0 L524.6,197.1 L525.2,197.1 L525.8,197.1 L526.5,197.1 L527.1,197.1 L527.7,197.1 L528.3,197.2 L528.9,197.2 L529.5,197.2" fill="none" stroke="#000" stroke-width="2.2" stroke-dasharray="9.5,8.5" stroke-dashoffset="12.45"/>
<path d="M42.3,197.8 L42.9,197.8 L43.5,197.8 L44.1,197.8 L44.7,197.7 L45.3,197.7 L46.0,197.7 L46.6,197.7 L47.2,197.7 L47.8,197.7 L48.4,197.7 L49.0,197.7 L49.6,197.7 L50.2,197.6 L50.8,197.6 L51.4,197.6 L52.1,197.6 L52.7,197.6 L53.3,197.6 L53.9,197.6 L54.5,197.6 L55.1,197.5 L55.7,197.5 L56.3,197.5 L56.9,197.5 L57.5,197.5 L58.2,197.5 L58.8,197.5 L59.4,197.5 L60.0,197.4 L60.6,197.4 L61.2,197.4 L61.8,197.4 L62.4,197.4 L63.0,197.4 L63.6,197.4 L64.3,197.3 L64.9,197.3 L65.5,197.3 L66.1,197.3 L66.7,197.3 L67.3,197.3 L67.9,197.2 L68.5,197.2 L69.1,197.2 L69.7,197.2 L70.3,197.2 L71.0,197.2 L71.6,197.2 L72.2,197.1 L72.8,197.1 L73.4,197.1 L74.0,197.1 L74.6,197.1 L75.2,197.1 L75.8,197.0 L76.4,197.0 L77.1,197.0 L77.7,197.0 L78.3,197.0 L78.9,196.9 L79.5,196.9 L80.1,196.9 L80.7,196.9 L81.3,196.9 L81.9,196.8 L82.5,196.8 L83.2,196.8 L83.8,196.8 L84.4,196.8 L85.0,196.7 L85.6,196.7 L86.2,196.7 L86.8,196.7 L87.4,196.7 L88.0,196.6 L88.6,196.6 L89.3,196.6 L89.9,196.6 L90.5,196.6 L91.1,196.5 L91.7,196.5 L92.3,196.5 L92.9,196.5 L93.5,196.4 L94.1,196.4 L94.7,196.4 L95.3,196.4 L96.0,196.3 L96.6,196.3 L97.2,196.3 L97.8,196.3 L98.4,196.2 L99.0,196.2 L99.6,196.2 L100.2,196.2 L100.8,196.1 L101.4,196.1 L102.1,196.1 L102.7,196.0 L103.3,196.0 L103.9,196.0 L104.5,196.0 L105.1,195.9 L105.7,195.9 L106.3,195.9 L106.9,195.8 L107.5,195.8 L108.2,195.8 L108.8,195.7 L109.4,195.7 L110.0,195.7 L110.6,195.6 L111.2,195.6 L111.8,195.6 L112.4,195.5 L113.0,195.5 L113.6,195.5 L114.3,195.4 L114.9,195.4 L115.5,195.4 L116.1,195.3 L116.7,195.3 L117.3,195.3 L117.9,195.2 L118.5,195.2 L119.1,195.1 L119.7,195.1 L120.3,195.1 L121.0,195.0 L121.6,195.0 L122.2,194.9 L122.8,194.9 L123.4,194.8 L124.0,194.8 L124.6,194.8 L125.2,194.7 L125.8,194.7 L126.4,194.6 L127.1,194.6 L127.7,194.5 L128.3,194.5 L128.9,194.4 L129.5,194.4 L130.1,194.3 L130.7,194.3 L131.3,194.2 L131.9,194.2 L132.5,194.1 L133.2,194.0 L133.8,194.0 L134.4,193.9 L135.0,193.9 L135.6,193.8 L136.2,193.7 L136.8,193.7 L137.4,193.6 L138.0,193.6 L138.6,193.5 L139.3,193.4 L139.9,193.4 L140.5,193.3 L141.1,193.2 L141.7,193.2 L142.3,193.1 L142.9,193.0 L143.5,192.9 L144.1,192.9 L144.7,192.8 L145.3,192.7 L146.0,192.6 L146.6,192.5 L147.2,192.5 L147.8,192.4 L148.4,192.3 L149.0,192.2 L149.6,192.1 L150.2,192.0 L150.8,191.9 L151.4,191.8 L152.1,191.8 L152.7,191.7 L153.3,191.6 L153.9,191.5 L154.5,191.4 L155.1,191.2 L155.7,191.1 L156.3,191.0 L156.9,190.9 L157.5,190.8 L158.2,190.7 L158.8,190.6 L159.4,190.5 L160.0,190.3 L160.6,190.2 L161.2,190.1 L161.8,189.9 L162.4,189.8 L163.0,189.7 L163.6,189.5 L164.3,189.4 L164.9,189.2 L165.5,189.1 L166.1,188.9 L166.7,188.8 L167.3,188.6 L167.9,188.5 L168.5,188.3 L169.1,188.1 L169.7,187.9 L170.4,187.8 L171.0,187.6 L171.6,187.4 L172.2,187.2 L172.8,187.0 L173.4,186.8 L174.0,186.6 L174.6,186.4 L175.2,186.1 L175.8,185.9 L176.4,185.7 L177.1,185.4 L177.7,185.2 L178.3,184.9 L178.9,184.7 L179.5,184.4 L180.1,184.1 L180.7,183.9 L181.3,183.6 L181.9,183.3 L182.5,183.0 L183.2,182.6 L183.8,182.3 L184.4,182.0 L185.0,181.6 L185.6,181.3 L186.2,180.9 L186.8,180.5 L187.4,180.2 L188.0,179.8 L188.6,179.3 L189.3,178.9 L189.9,178.5 L190.5,178.0 L191.1,177.6 L191.7,177.1 L192.3,176.6 L192.9,176.0 L193.5,175.5 L194.1,174.9 L194.7,174.4 L195.4,173.8 L196.0,173.2 L196.6,172.5 L197.2,171.9 L197.8,171.2 L198.4,170.5 L199.0,169.7 L199.6,169.0 L200.2,168.2 L200.8,167.3 L201.4,166.5 L202.1,165.6 L202.7,164.7 L203.3,163.7 L203.9,162.7 L204.5,161.6 L205.1,160.6 L205.7,159.4 L206.3,158.3 L206.9,157.0 L207.5,155.8 L208.2,154.4 L208.8,153.1 L209.4,151.6 L210.0,150.1 L210.6,148.6 L211.2,147.0 L211.8,145.3 L212.4,143.5 L213.0,141.7 L213.6,139.8 L214.3,137.8 L214.9,135.7 L215.5,133.6 L216.1,131.4 L216.7,129.1 L217.3,126.7 L217.9,124.2 L218.5,121.7 L219.1,119.1 L219.7,116.3 L220.4,113.5 L221.0,110.7 L221.6,107.7 L222.2,104.8 L222.8,101.7 L223.4,98.6 L224.0,95.5 L224.6,92.3 L225.2,89.2 L225.8,86.1 L226.4,83.0 L227.1,79.9 L227.7,77.0 L228.3,74.2 L228.9,71.4 L229.5,68.9 L230.1,66.5 L230.7,64.4 L231.3,62.5 L231.9,60.8 L232.5,59.5 L233.2,58.4 L233.8,57.6 L234.4,57.2 L235.0,57.1 L235.6,57.4 L236.2,57.9 L236.8,58.8 L237.4,60.0 L238.0,61.5 L238.6,63.2 L239.3,65.2 L239.9,67.4 L240.5,69.8 L241.1,72.3 L241.7,75.0 L242.3,77.7 L242.9,80.6 L243.5,83.5 L244.1,86.5 L244.7,89.5 L245.4,92.5 L246.0,95.4 L246.6,98.3 L247.2,101.2 L247.8,104.0 L248.4,106.8 L249.0,109.5 L249.6,112.1 L250.2,114.7 L250.8,117.1 L251.4,119.5 L252.1,121.8 L252.7,124.0 L253.3,126.1 L253.9,128.2 L254.5,130.1 L255.1,132.0 L255.7,133.8 L256.3,135.5 L256.9,137.1 L257.5,138.7 L258.2,140.2 L258.8,141.6 L259.4,143.0 L260.0,144.3 L260.6,145.5 L261.2,146.7 L261.8,147.8 L262.4,148.8 L263.0,149.8 L263.6,150.8 L264.3,151.7 L264.9,152.5 L265.5,153.3 L266.1,154.1 L266.7,154.8 L267.3,155.5 L267.9,156.2 L268.5,156.8 L269.1,157.3 L269.7,157.9 L270.4,158.4 L271.0,158.8 L271.6,159.3 L272.2,159.7 L272.8,160.1 L273.4,160.4 L274.0,160.7 L274.6,161.0 L275.2,161.3 L275.8,161.5 L276.4,161.8 L277.1,162.0 L277.7,162.1 L278.3,162.3 L278.9,162.4 L279.5,162.5 L280.1,162.6 L280.7,162.7 L281.3,162.7 L281.9,162.7 L282.5,162.7 L283.2,162.7 L283.8,162.7 L284.4,162.6 L285.0,162.5 L285.6,162.4 L286.2,162.3 L286.8,162.2 L287.4,162.0 L288.0,161.9 L288.6,161.7 L289.3,161.5 L289.9,161.2 L290.5,161.0 L291.1,160.7 L291.7,160.5 L292.3,160.2 L292.9,159.8 L293.5,159.5 L294.1,159.1 L294.7,158.8 L295.4,158.4 L296.0,158.0 L296.6,157.5 L297.2,157.1 L297.8,156.6 L298.4,156.2 L299.0,155.6 L299.6,155.1 L300.2,154.6 L300.8,154.0 L301.4,153.4 L302.1,152.9 L302.7,152.2 L303.3,151.6 L303.9,150.9 L304.5,150.3 L305.1,149.6 L305.7,148.9 L306.3,148.1 L306.9,147.4 L307.5,146.6 L308.2,145.9 L308.8,145.1 L309.4,144.2 L310.0,143.4 L310.6,142.6 L311.2,141.7 L311.8,140.8 L312.4,139.9 L313.0,139.0 L313.6,138.1 L314.3,137.2 L314.9,136.3 L315.5,135.3 L316.1,134.4 L316.7,133.5 L317.3,132.5 L317.9,131.6 L318.5,130.6 L319.1,129.7 L319.7,128.7 L320.4,127.8 L321.0,126.9 L321.6,126.0 L322.2,125.1 L322.8,124.2 L323.4,123.4 L324.0,122.6 L324.6,121.8 L325.2,121.0 L325.8,120.2 L326.4,119.5 L327.1,118.9 L327.7,118.2 L328.3,117.7 L328.9,117.1 L329.5,116.6 L330.1,116.2 L330.7,115.8 L331.3,115.5 L331.9,115.2 L332.5,115.0 L333.2,114.8 L333.8,114.8 L334.4,114.7 L335.0,114.7 L335.6,114.8 L336.2,114.9 L336.8,115.1 L337.4,115.3 L338.0,115.6 L338.6,115.9 L339.3,116.3 L339.9,116.6 L340.5,117.1 L341.1,117.6 L341.7,118.1 L342.3,118.6 L342.9,119.2 L343.5,119.8 L344.1,120.5 L344.7,121.2 L345.4,121.9 L346.0,122.6 L346.6,123.4 L347.2,124.2 L347.8,125.0 L348.4,125.8 L349.0,126.7 L349.6,127.6 L350.2,128.4 L350.8,129.3 L351.4,130.2 L352.1,131.1 L352.7,132.1 L353.3,133.0 L353.9,133.9 L354.5,134.8 L355.1,135.8 L355.7,136.7 L356.3,137.6 L356.9,138.6 L357.5,139.5 L358.2,140.4 L358.8,141.3 L359.4,142.2 L360.0,143.1 L360.6,144.0 L361.2,144.9 L361.8,145.8 L362.4,146.7 L363.0,147.5 L363.6,148.4 L364.3,149.2 L364.9,150.1 L365.5,150.9 L366.1,151.7 L366.7,152.5 L367.3,153.3 L367.9,154.0 L368.5,154.8 L369.1,155.5 L369.7,156.3 L370.4,157.0 L371.0,157.7 L371.6,158.4 L372.2,159.1 L372.8,159.8 L373.4,160.4 L374.0,161.1 L374.6,161.7 L375.2,162.3 L375.8,163.0 L376.4,163.6 L377.1,164.2 L377.7,164.7 L378.3,165.3 L378.9,165.9 L379.5,166.4 L380.1,167.0 L380.7,167.5 L381.3,168.0 L381.9,168.5 L382.5,169.0 L383.2,169.5 L383.8,170.0 L384.4,170.4 L385.0,170.9 L385.6,171.3 L386.2,171.8 L386.8,172.2 L387.4,172.6 L388.0,173.0 L388.6,173.5 L389.3,173.9 L389.9,174.2 L390.5,174.6 L391.1,175.0 L391.7,175.4 L392.3,175.7 L392.9,176.1 L393.5,176.4 L394.1,176.8 L394.7,177.1 L395.4,177.4 L396.0,177.8 L396.6,178.1 L397.2,178.4 L397.8,178.7 L398.4,179.0 L399.0,179.3 L399.6,179.6 L400.2,179.8 L400.8,180.1 L401.4,180.4 L402.1,180.6 L402.7,180.9 L403.3,181.2 L403.9,181.4 L404.5,181.6 L405.1,181.9 L405.7,182.1 L406.3,182.4 L406.9,182.6 L407.5,182.8 L408.2,183.0 L408.8,183.2 L409.4,183.5 L410.0,183.7 L410.6,183.9 L411.2,184.1 L411.8,184.3 L412.4,184.5 L413.0,184.6 L413.6,184.8 L414.3,185.0 L414.9,185.2 L415.5,185.4 L416.1,185.5 L416.7,185.7 L417.3,185.9 L417.9,186.1 L418.5,186.2 L419.1,186.4 L419.7,186.5 L420.4,186.7 L421.0,186.8 L421.6,187.0 L422.2,187.1 L422.8,187.3 L423.4,187.4 L424.0,187.6 L424.6,187.7 L425.2,187.8 L425.8,188.0 L426.5,188.1 L427.1,188.2 L427.7,188.3 L428.3,188.5 L428.9,188.6 L429.5,188.7 L430.1,188.8 L430.7,189.0 L431.3,189.1 L431.9,189.2 L432.5,189.3 L433.2,189.4 L433.8,189.5 L434.4,189.6 L435.0,189.7 L435.6,189.8 L436.2,189.9 L436.8,190.0 L437.4,190.1 L438.0,190.2 L438.6,190.3 L439.3,190.4 L439.9,190.5 L440.5,190.6 L441.1,190.7 L441.7,190.8 L442.3,190.9 L442.9,191.0 L443.5,191.0 L444.1,191.1 L444.7,191.2 L445.4,191.3 L446.0,191.4 L446.6,191.4 L447.2,191.5 L447.8,191.6 L448.4,191.7 L449.0,191.8 L449.6,191.8 L450.2,191.9 L450.8,192.0 L451.5,192.0 L452.1,192.1 L452.7,192.2 L453.3,192.3 L453.9,192.3 L454.5,192.4 L455.1,192.5 L455.7,192.5 L456.3,192.6 L456.9,192.6 L457.5,192.7 L458.2,192.7 L458.8,192.8 L459.4,192.8 L460.0,192.9 L460.6,192.9 L461.2,192.9 L461.8,193.0 L462.4,193.0 L463.0,193.1 L463.6,193.1 L464.3,193.2 L464.9,193.2 L465.5,193.2 L466.1,193.3 L466.7,193.3 L467.3,193.4 L467.9,193.4 L468.5,193.4 L469.1,193.5 L469.7,193.5 L470.4,193.5 L471.0,193.6 L471.6,193.6 L472.2,193.6 L472.8,193.7 L473.4,193.7 L474.0,193.7 L474.6,193.8 L475.2,193.8 L475.8,193.8 L476.5,193.9 L477.1,193.9 L477.7,193.9 L478.3,194.0 L478.9,194.0 L479.5,194.0 L480.1,194.0 L480.7,194.1 L481.3,194.1 L481.9,194.1 L482.5,194.2 L483.2,194.2 L483.8,194.2 L484.4,194.2 L485.0,194.3 L485.6,194.3 L486.2,194.3 L486.8,194.3 L487.4,194.3 L488.0,194.4 L488.6,194.4 L489.3,194.4 L489.9,194.4 L490.5,194.5 L491.1,194.5 L491.7,194.5 L492.3,194.5 L492.9,194.5 L493.5,194.6 L494.1,194.6 L494.7,194.6 L495.4,194.6 L496.0,194.6 L496.6,194.6 L497.2,194.7 L497.8,194.7 L498.4,194.7 L499.0,194.7 L499.6,194.7 L500.2,194.7 L500.8,194.8 L501.5,194.8 L502.1,194.8 L502.7,194.8 L503.3,194.8 L503.9,194.8 L504.5,194.8 L505.1,194.9 L505.7,194.9 L506.3,194.9 L506.9,194.9 L507.5,194.9 L508.2,194.9 L508.8,194.9 L509.4,194.9 L510.0,195.0 L510.6,195.0 L511.2,195.0 L511.8,195.0 L512.4,195.0 L513.0,195.0 L513.6,195.0 L514.3,195.0 L514.9,195.0 L515.5,195.1 L516.1,195.1 L516.7,195.1 L517.3,195.1 L517.9,195.1 L518.5,195.1 L519.1,195.1 L519.7,195.1 L520.4,195.1 L521.0,195.1 L521.6,195.1 L522.2,195.1 L522.8,195.2 L523.4,195.2 L524.0,195.2 L524.6,195.2 L525.2,195.2 L525.8,195.2 L526.5,195.2 L527.1,195.2 L527.7,195.2 L528.3,195.2 L528.9,195.2 L529.5,195.2" fill="none" stroke="#000" stroke-width="2.4"/>
</g>
<g clip-path="url(#cb)">
<g fill="#fff" stroke="#000" stroke-width="1" stroke-linejoin="miter"><use href="#t" x="42.0" y="390.5"/><use href="#t" x="43.8" y="390.4"/><use href="#t" x="45.5" y="390.4"/><use href="#t" x="47.3" y="390.4"/><use href="#t" x="49.0" y="390.4"/><use href="#t" x="50.7" y="390.3"/><use href="#t" x="52.5" y="390.3"/><use href="#t" x="54.2" y="390.3"/><use href="#t" x="56.0" y="390.2"/><use href="#t" x="57.7" y="390.2"/><use href="#t" x="59.4" y="390.2"/><use href="#t" x="61.2" y="390.1"/><use href="#t" x="62.9" y="390.1"/><use href="#t" x="64.7" y="390.1"/><use href="#t" x="66.4" y="390.0"/><use href="#t" x="68.1" y="390.0"/><use href="#t" x="69.9" y="389.9"/><use href="#t" x="71.6" y="389.9"/><use href="#t" x="73.4" y="389.9"/><use href="#t" x="75.1" y="389.8"/><use href="#t" x="76.8" y="389.8"/><use href="#t" x="78.6" y="389.7"/><use href="#t" x="80.3" y="389.7"/><use href="#t" x="82.1" y="389.6"/><use href="#t" x="83.8" y="389.6"/><use href="#t" x="85.5" y="389.5"/><use href="#t" x="87.3" y="389.5"/><use href="#t" x="89.0" y="389.4"/><use href="#t" x="90.8" y="389.4"/><use href="#t" x="92.5" y="389.3"/><use href="#t" x="94.2" y="389.3"/><use href="#t" x="96.0" y="389.2"/><use href="#t" x="97.7" y="389.1"/><use href="#t" x="99.5" y="389.1"/><use href="#t" x="101.2" y="389.0"/><use href="#t" x="102.9" y="388.9"/><use href="#t" x="104.7" y="388.8"/><use href="#t" x="106.4" y="388.8"/><use href="#t" x="108.2" y="388.7"/><use href="#t" x="109.9" y="388.6"/><use href="#t" x="111.6" y="388.5"/><use href="#t" x="113.4" y="388.4"/><use href="#t" x="115.1" y="388.3"/><use href="#t" x="116.9" y="388.2"/><use href="#t" x="118.6" y="388.1"/><use href="#t" x="120.3" y="388.0"/><use href="#t" x="122.1" y="387.9"/><use href="#t" x="123.8" y="387.8"/><use href="#t" x="125.6" y="387.7"/><use href="#t" x="127.3" y="387.5"/><use href="#t" x="129.0" y="387.4"/><use href="#t" x="130.8" y="387.3"/><use href="#t" x="132.5" y="387.1"/><use href="#t" x="134.3" y="387.0"/><use href="#t" x="136.0" y="386.8"/><use href="#t" x="137.7" y="386.6"/><use href="#t" x="139.5" y="386.5"/><use href="#t" x="141.2" y="386.3"/><use href="#t" x="143.0" y="386.1"/><use href="#t" x="144.7" y="385.9"/><use href="#t" x="146.4" y="385.7"/><use href="#t" x="148.2" y="385.4"/><use href="#t" x="149.9" y="385.2"/><use href="#t" x="151.7" y="385.0"/><use href="#t" x="153.4" y="384.7"/><use href="#t" x="155.1" y="384.4"/><use href="#t" x="156.9" y="384.1"/><use href="#t" x="158.6" y="383.8"/><use href="#t" x="160.4" y="383.4"/><use href="#t" x="162.1" y="383.1"/><use href="#t" x="163.8" y="382.7"/><use href="#t" x="165.6" y="382.3"/><use href="#t" x="167.3" y="381.9"/><use href="#t" x="169.1" y="381.4"/><use href="#t" x="170.8" y="380.9"/><use href="#t" x="172.5" y="380.3"/><use href="#t" x="174.3" y="379.8"/><use href="#t" x="176.0" y="379.1"/><use href="#t" x="177.8" y="378.4"/><use href="#t" x="179.5" y="377.7"/><use href="#t" x="181.2" y="376.9"/><use href="#t" x="183.0" y="376.0"/><use href="#t" x="184.7" y="375.1"/><use href="#t" x="186.5" y="374.0"/><use href="#t" x="188.2" y="372.8"/><use href="#t" x="189.9" y="371.5"/><use href="#t" x="191.7" y="370.1"/><use href="#t" x="193.4" y="368.4"/><use href="#t" x="195.2" y="366.6"/><use href="#t" x="196.9" y="364.6"/><use href="#t" x="198.6" y="362.3"/><use href="#t" x="200.4" y="359.8"/><use href="#t" x="202.1" y="356.9"/><use href="#t" x="203.9" y="353.7"/><use href="#t" x="205.6" y="350.1"/><use href="#t" x="207.3" y="346.1"/><use href="#t" x="209.1" y="341.6"/><use href="#t" x="210.9" y="336.4"/><use href="#t" x="212.8" y="330.2"/><use href="#t" x="214.9" y="323.0"/><use href="#t" x="217.0" y="314.6"/><use href="#t" x="219.4" y="304.6"/><use href="#t" x="221.8" y="293.4"/><use href="#t" x="224.2" y="281.8"/><use href="#t" x="226.7" y="270.5"/><use href="#t" x="229.1" y="260.5"/><use href="#t" x="231.6" y="252.9"/><use href="#t" x="234.0" y="248.9"/><use href="#t" x="236.4" y="249.0"/><use href="#t" x="238.8" y="253.4"/><use href="#t" x="241.2" y="261.4"/><use href="#t" x="243.6" y="271.6"/><use href="#t" x="246.0" y="282.7"/><use href="#t" x="248.4" y="293.9"/><use href="#t" x="250.8" y="304.3"/><use href="#t" x="253.1" y="313.3"/><use href="#t" x="255.3" y="320.8"/><use href="#t" x="257.3" y="326.9"/><use href="#t" x="259.2" y="332.0"/><use href="#t" x="261.1" y="336.3"/><use href="#t" x="262.9" y="339.9"/><use href="#t" x="264.6" y="342.9"/><use href="#t" x="266.3" y="345.5"/><use href="#t" x="268.0" y="347.7"/><use href="#t" x="269.7" y="349.6"/><use href="#t" x="271.5" y="351.0"/><use href="#t" x="273.2" y="352.0"/><use href="#t" x="274.9" y="352.4"/><use href="#t" x="276.6" y="352.3"/><use href="#t" x="278.3" y="351.5"/><use href="#t" x="280.0" y="350.1"/><use href="#t" x="281.7" y="348.1"/><use href="#t" x="283.5" y="345.6"/><use href="#t" x="285.2" y="342.6"/><use href="#t" x="286.9" y="339.2"/><use href="#t" x="288.7" y="335.2"/><use href="#t" x="290.5" y="330.5"/><use href="#t" x="292.5" y="325.0"/><use href="#t" x="294.5" y="318.7"/><use href="#t" x="296.6" y="311.5"/><use href="#t" x="298.8" y="303.5"/><use href="#t" x="301.2" y="295.3"/><use href="#t" x="303.6" y="288.1"/><use href="#t" x="306.0" y="283.2"/><use href="#t" x="308.4" y="281.8"/><use href="#t" x="310.8" y="283.8"/><use href="#t" x="313.3" y="288.8"/><use href="#t" x="315.7" y="295.8"/><use href="#t" x="318.2" y="304.2"/><use href="#t" x="320.5" y="312.6"/><use href="#t" x="322.7" y="320.5"/><use href="#t" x="324.8" y="327.6"/><use href="#t" x="326.7" y="333.8"/><use href="#t" x="328.6" y="339.3"/><use href="#t" x="330.4" y="344.0"/><use href="#t" x="332.1" y="348.3"/><use href="#t" x="333.9" y="352.1"/><use href="#t" x="335.6" y="355.6"/><use href="#t" x="337.3" y="358.7"/><use href="#t" x="339.1" y="361.5"/><use href="#t" x="340.8" y="363.9"/><use href="#t" x="342.6" y="366.2"/><use href="#t" x="344.3" y="368.1"/><use href="#t" x="346.0" y="369.9"/><use href="#t" x="347.8" y="371.5"/><use href="#t" x="349.5" y="372.9"/><use href="#t" x="351.3" y="374.1"/><use href="#t" x="353.0" y="375.3"/><use href="#t" x="354.7" y="376.3"/><use href="#t" x="356.5" y="377.2"/><use href="#t" x="358.2" y="378.0"/><use href="#t" x="360.0" y="378.8"/><use href="#t" x="361.7" y="379.5"/><use href="#t" x="363.4" y="380.1"/><use href="#t" x="365.2" y="380.7"/><use href="#t" x="366.9" y="381.3"/><use href="#t" x="368.7" y="381.8"/><use href="#t" x="370.4" y="382.2"/><use href="#t" x="372.1" y="382.7"/><use href="#t" x="373.9" y="383.1"/><use href="#t" x="375.6" y="383.4"/><use href="#t" x="377.4" y="383.8"/><use href="#t" x="379.1" y="384.1"/><use href="#t" x="380.8" y="384.4"/><use href="#t" x="382.6" y="384.7"/><use href="#t" x="384.3" y="385.0"/><use href="#t" x="386.1" y="385.2"/><use href="#t" x="387.8" y="385.5"/><use href="#t" x="389.5" y="385.7"/><use href="#t" x="391.3" y="385.9"/><use href="#t" x="393.0" y="386.1"/><use href="#t" x="394.8" y="386.3"/><use href="#t" x="396.5" y="386.5"/><use href="#t" x="398.2" y="386.7"/><use href="#t" x="400.0" y="386.9"/><use href="#t" x="401.7" y="387.0"/><use href="#t" x="403.5" y="387.2"/><use href="#t" x="405.2" y="387.3"/><use href="#t" x="406.9" y="387.5"/><use href="#t" x="408.7" y="387.6"/><use href="#t" x="410.4" y="387.7"/><use href="#t" x="412.2" y="387.8"/><use href="#t" x="413.9" y="387.9"/><use href="#t" x="415.6" y="388.1"/><use href="#t" x="417.4" y="388.2"/><use href="#t" x="419.1" y="388.3"/><use href="#t" x="420.9" y="388.4"/><use href="#t" x="422.6" y="388.5"/><use href="#t" x="424.3" y="388.5"/><use href="#t" x="426.1" y="388.6"/><use href="#t" x="427.8" y="388.7"/><use href="#t" x="429.6" y="388.8"/><use href="#t" x="431.3" y="388.9"/><use href="#t" x="433.0" y="388.9"/><use href="#t" x="434.8" y="389.0"/><use href="#t" x="436.5" y="389.1"/><use href="#t" x="438.3" y="389.2"/><use href="#t" x="440.0" y="389.2"/><use href="#t" x="441.7" y="389.3"/><use href="#t" x="443.5" y="389.3"/><use href="#t" x="445.2" y="389.4"/><use href="#t" x="447.0" y="389.5"/><use href="#t" x="448.7" y="389.5"/><use href="#t" x="450.4" y="389.6"/><use href="#t" x="452.2" y="389.6"/><use href="#t" x="453.9" y="389.7"/><use href="#t" x="455.7" y="389.7"/><use href="#t" x="457.4" y="389.8"/><use href="#t" x="459.1" y="389.8"/><use href="#t" x="460.9" y="389.8"/><use href="#t" x="462.6" y="389.9"/><use href="#t" x="464.4" y="389.9"/><use href="#t" x="466.1" y="390.0"/><use href="#t" x="467.8" y="390.0"/><use href="#t" x="469.6" y="390.0"/><use href="#t" x="471.3" y="390.1"/><use href="#t" x="473.1" y="390.1"/><use href="#t" x="474.8" y="390.1"/><use href="#t" x="476.5" y="390.2"/><use href="#t" x="478.3" y="390.2"/><use href="#t" x="480.0" y="390.2"/><use href="#t" x="481.8" y="390.3"/><use href="#t" x="483.5" y="390.3"/><use href="#t" x="485.2" y="390.3"/><use href="#t" x="487.0" y="390.4"/><use href="#t" x="488.7" y="390.4"/><use href="#t" x="490.5" y="390.4"/><use href="#t" x="492.2" y="390.4"/><use href="#t" x="493.9" y="390.5"/><use href="#t" x="495.7" y="390.5"/><use href="#t" x="497.4" y="390.5"/><use href="#t" x="499.2" y="390.5"/><use href="#t" x="500.9" y="390.6"/><use href="#t" x="502.6" y="390.6"/><use href="#t" x="504.4" y="390.6"/><use href="#t" x="506.1" y="390.6"/><use href="#t" x="507.9" y="390.6"/><use href="#t" x="509.6" y="390.7"/><use href="#t" x="511.3" y="390.7"/><use href="#t" x="513.1" y="390.7"/><use href="#t" x="514.8" y="390.7"/><use href="#t" x="516.6" y="390.7"/><use href="#t" x="518.3" y="390.8"/><use href="#t" x="520.0" y="390.8"/><use href="#t" x="521.8" y="390.8"/><use href="#t" x="523.5" y="390.8"/><use href="#t" x="525.3" y="390.8"/><use href="#t" x="527.0" y="390.9"/><use href="#t" x="528.7" y="390.9"/></g>
<path d="M42.3,393.3 L42.9,393.3 L43.5,393.3 L44.1,393.3 L44.7,393.2 L45.3,393.2 L46.0,393.2 L46.6,393.2 L47.2,393.2 L47.8,393.2 L48.4,393.2 L49.0,393.2 L49.6,393.2 L50.2,393.2 L50.8,393.2 L51.4,393.2 L52.1,393.2 L52.7,393.1 L53.3,393.1 L53.9,393.1 L54.5,393.1 L55.1,393.1 L55.7,393.1 L56.3,393.1 L56.9,393.1 L57.5,393.1 L58.2,393.1 L58.8,393.1 L59.4,393.0 L60.0,393.0 L60.6,393.0 L61.2,393.0 L61.8,393.0 L62.4,393.0 L63.0,393.0 L63.6,393.0 L64.3,393.0 L64.9,393.0 L65.5,393.0 L66.1,392.9 L66.7,392.9 L67.3,392.9 L67.9,392.9 L68.5,392.9 L69.1,392.9 L69.7,392.9 L70.3,392.9 L71.0,392.9 L71.6,392.8 L72.2,392.8 L72.8,392.8 L73.4,392.8 L74.0,392.8 L74.6,392.8 L75.2,392.8 L75.8,392.8 L76.4,392.7 L77.1,392.7 L77.7,392.7 L78.3,392.7 L78.9,392.7 L79.5,392.7 L80.1,392.7 L80.7,392.7 L81.3,392.6 L81.9,392.6 L82.5,392.6 L83.2,392.6 L83.8,392.6 L84.4,392.6 L85.0,392.6 L85.6,392.5 L86.2,392.5 L86.8,392.5 L87.4,392.5 L88.0,392.5 L88.6,392.5 L89.3,392.4 L89.9,392.4 L90.5,392.4 L91.1,392.4 L91.7,392.4 L92.3,392.4 L92.9,392.3 L93.5,392.3 L94.1,392.3 L94.7,392.3 L95.3,392.3 L96.0,392.3 L96.6,392.2 L97.2,392.2 L97.8,392.2 L98.4,392.2 L99.0,392.2 L99.6,392.1 L100.2,392.1 L100.8,392.1 L101.4,392.1 L102.1,392.1 L102.7,392.0 L103.3,392.0 L103.9,392.0 L104.5,392.0 L105.1,391.9 L105.7,391.9 L106.3,391.9 L106.9,391.9 L107.5,391.9 L108.2,391.8 L108.8,391.8 L109.4,391.8 L110.0,391.8 L110.6,391.7 L111.2,391.7 L111.8,391.7 L112.4,391.7 L113.0,391.6 L113.6,391.6 L114.3,391.6 L114.9,391.5 L115.5,391.5 L116.1,391.5 L116.7,391.5 L117.3,391.4 L117.9,391.4 L118.5,391.4 L119.1,391.3 L119.7,391.3 L120.3,391.3 L121.0,391.2 L121.6,391.2 L122.2,391.2 L122.8,391.1 L123.4,391.1 L124.0,391.1 L124.6,391.0 L125.2,391.0 L125.8,391.0 L126.4,390.9 L127.1,390.9 L127.7,390.8 L128.3,390.8 L128.9,390.8 L129.5,390.7 L130.1,390.7 L130.7,390.6 L131.3,390.6 L131.9,390.5 L132.5,390.5 L133.2,390.5 L133.8,390.4 L134.4,390.4 L135.0,390.3 L135.6,390.3 L136.2,390.2 L136.8,390.2 L137.4,390.1 L138.0,390.1 L138.6,390.0 L139.3,389.9 L139.9,389.9 L140.5,389.8 L141.1,389.8 L141.7,389.7 L142.3,389.7 L142.9,389.6 L143.5,389.5 L144.1,389.5 L144.7,389.4 L145.3,389.3 L146.0,389.3 L146.6,389.2 L147.2,389.1 L147.8,389.1 L148.4,389.0 L149.0,388.9 L149.6,388.8 L150.2,388.8 L150.8,388.7 L151.4,388.6 L152.1,388.5 L152.7,388.4 L153.3,388.4 L153.9,388.3 L154.5,388.2 L155.1,388.1 L155.7,388.0 L156.3,387.9 L156.9,387.8 L157.5,387.7 L158.2,387.6 L158.8,387.5 L159.4,387.4 L160.0,387.3 L160.6,387.2 L161.2,387.0 L161.8,386.9 L162.4,386.8 L163.0,386.7 L163.6,386.6 L164.3,386.4 L164.9,386.3 L165.5,386.2 L166.1,386.0 L166.7,385.9 L167.3,385.7 L167.9,385.6 L168.5,385.4 L169.1,385.3 L169.7,385.1 L170.4,385.0 L171.0,384.8 L171.6,384.6 L172.2,384.4 L172.8,384.3 L173.4,384.1 L174.0,383.9 L174.6,383.7 L175.2,383.5 L175.8,383.3 L176.4,383.1 L177.1,382.8 L177.7,382.6 L178.3,382.4 L178.9,382.1 L179.5,381.9 L180.1,381.6 L180.7,381.4 L181.3,381.1 L181.9,380.8 L182.5,380.5 L183.2,380.2 L183.8,379.9 L184.4,379.6 L185.0,379.3 L185.6,378.9 L186.2,378.6 L186.8,378.2 L187.4,377.9 L188.0,377.5 L188.6,377.1 L189.3,376.7 L189.9,376.2 L190.5,375.8 L191.1,375.4 L191.7,374.9 L192.3,374.4 L192.9,373.9 L193.5,373.4 L194.1,372.8 L194.7,372.3 L195.4,371.7 L196.0,371.1 L196.6,370.5 L197.2,369.8 L197.8,369.2 L198.4,368.5 L199.0,367.7 L199.6,367.0 L200.2,366.2 L200.8,365.4 L201.4,364.5 L202.1,363.6 L202.7,362.7 L203.3,361.8 L203.9,360.8 L204.5,359.7 L205.1,358.7 L205.7,357.5 L206.3,356.4 L206.9,355.1 L207.5,353.9 L208.2,352.5 L208.8,351.2 L209.4,349.7 L210.0,348.2 L210.6,346.6 L211.2,345.0 L211.8,343.3 L212.4,341.5 L213.0,339.6 L213.6,337.7 L214.3,335.7 L214.9,333.6 L215.5,331.4 L216.1,329.1 L216.7,326.8 L217.3,324.3 L217.9,321.8 L218.5,319.1 L219.1,316.4 L219.7,313.6 L220.4,310.7 L221.0,307.7 L221.6,304.6 L222.2,301.5 L222.8,298.3 L223.4,295.1 L224.0,291.8 L224.6,288.5 L225.2,285.1 L225.8,281.8 L226.4,278.5 L227.1,275.3 L227.7,272.2 L228.3,269.1 L228.9,266.2 L229.5,263.5 L230.1,261.0 L230.7,258.6 L231.3,256.6 L231.9,254.8 L232.5,253.4 L233.2,252.2 L233.8,251.4 L234.4,251.0 L235.0,250.9 L235.6,251.2 L236.2,251.9 L236.8,252.9 L237.4,254.2 L238.0,255.9 L238.6,257.8 L239.3,260.0 L239.9,262.5 L240.5,265.1 L241.1,268.0 L241.7,271.0 L242.3,274.1 L242.9,277.3 L243.5,280.5 L244.1,283.8 L244.7,287.1 L245.4,290.5 L246.0,293.8 L246.6,297.0 L247.2,300.2 L247.8,303.4 L248.4,306.5 L249.0,309.5 L249.6,312.4 L250.2,315.3 L250.8,318.1 L251.4,320.7 L252.1,323.3 L252.7,325.8 L253.3,328.2 L253.9,330.5 L254.5,332.7 L255.1,334.9 L255.7,336.9 L256.3,338.9 L256.9,340.8 L257.5,342.6 L258.2,344.3 L258.8,346.0 L259.4,347.6 L260.0,349.1 L260.6,350.6 L261.2,352.0 L261.8,353.3 L262.4,354.6 L263.0,355.9 L263.6,357.1 L264.3,358.2 L264.9,359.3 L265.5,360.4 L266.1,361.4 L266.7,362.4 L267.3,363.3 L267.9,364.2 L268.5,365.0 L269.1,365.9 L269.7,366.7 L270.4,367.4 L271.0,368.2 L271.6,368.9 L272.2,369.6 L272.8,370.2 L273.4,370.9 L274.0,371.5 L274.6,372.1 L275.2,372.6 L275.8,373.2 L276.4,373.7 L277.1,374.2 L277.7,374.7 L278.3,375.2 L278.9,375.6 L279.5,376.1 L280.1,376.5 L280.7,376.9 L281.3,377.3 L281.9,377.7 L282.5,378.1 L283.2,378.4 L283.8,378.8 L284.4,379.1 L285.0,379.5 L285.6,379.8 L286.2,380.1 L286.8,380.4 L287.4,380.7 L288.0,381.0 L288.6,381.3 L289.3,381.5 L289.9,381.8 L290.5,382.0 L291.1,382.3 L291.7,382.5 L292.3,382.7 L292.9,383.0 L293.5,383.2 L294.1,383.4 L294.7,383.6 L295.4,383.8 L296.0,384.0 L296.6,384.2 L297.2,384.4 L297.8,384.6 L298.4,384.7 L299.0,384.9 L299.6,385.1 L300.2,385.2 L300.8,385.4 L301.4,385.5 L302.1,385.7 L302.7,385.8 L303.3,386.0 L303.9,386.1 L304.5,386.3 L305.1,386.4 L305.7,386.5 L306.3,386.6 L306.9,386.8 L307.5,386.9 L308.2,387.0 L308.8,387.1 L309.4,387.2 L310.0,387.3 L310.6,387.4 L311.2,387.6 L311.8,387.7 L312.4,387.8 L313.0,387.9 L313.6,388.0 L314.3,388.0 L314.9,388.1 L315.5,388.2 L316.1,388.3 L316.7,388.4 L317.3,388.5 L317.9,388.6 L318.5,388.7 L319.1,388.7 L319.7,388.8 L320.4,388.9 L321.0,389.0 L321.6,389.0 L322.2,389.1 L322.8,389.2 L323.4,389.2 L324.0,389.3 L324.6,389.4 L325.2,389.4 L325.8,389.5 L326.4,389.6 L327.1,389.6 L327.7,389.7 L328.3,389.8 L328.9,389.8 L329.5,389.9 L330.1,389.9 L330.7,390.0 L331.3,390.0 L331.9,390.1 L332.5,390.1 L333.2,390.2 L333.8,390.2 L334.4,390.3 L335.0,390.3 L335.6,390.4 L336.2,390.4 L336.8,390.5 L337.4,390.5 L338.0,390.6 L338.6,390.6 L339.3,390.7 L339.9,390.7 L340.5,390.7 L341.1,390.8 L341.7,390.8 L342.3,390.9 L342.9,390.9 L343.5,390.9 L344.1,391.0 L344.7,391.0 L345.4,391.0 L346.0,391.1 L346.6,391.1 L347.2,391.2 L347.8,391.2 L348.4,391.2 L349.0,391.3 L349.6,391.3 L350.2,391.3 L350.8,391.3 L351.4,391.4 L352.1,391.4 L352.7,391.4 L353.3,391.5 L353.9,391.5 L354.5,391.5 L355.1,391.6 L355.7,391.6 L356.3,391.6 L356.9,391.6 L357.5,391.7 L358.2,391.7 L358.8,391.7 L359.4,391.7 L360.0,391.8 L360.6,391.8 L361.2,391.8 L361.8,391.8 L362.4,391.9 L363.0,391.9 L363.6,391.9 L364.3,391.9 L364.9,392.0 L365.5,392.0 L366.1,392.0 L366.7,392.0 L367.3,392.0 L367.9,392.1 L368.5,392.1 L369.1,392.1 L369.7,392.1 L370.4,392.2 L371.0,392.2 L371.6,392.2 L372.2,392.2 L372.8,392.2 L373.4,392.2 L374.0,392.3 L374.6,392.3 L375.2,392.3 L375.8,392.3 L376.4,392.3 L377.1,392.4 L377.7,392.4 L378.3,392.4 L378.9,392.4 L379.5,392.4 L380.1,392.4 L380.7,392.5 L381.3,392.5 L381.9,392.5 L382.5,392.5 L383.2,392.5 L383.8,392.5 L384.4,392.5 L385.0,392.6 L385.6,392.6 L386.2,392.6 L386.8,392.6 L387.4,392.6 L388.0,392.6 L388.6,392.6 L389.3,392.7 L389.9,392.7 L390.5,392.7 L391.1,392.7 L391.7,392.7 L392.3,392.7 L392.9,392.7 L393.5,392.8 L394.1,392.8 L394.7,392.8 L395.4,392.8 L396.0,392.8 L396.6,392.8 L397.2,392.8 L397.8,392.8 L398.4,392.8 L399.0,392.9 L399.6,392.9 L400.2,392.9 L400.8,392.9 L401.4,392.9 L402.1,392.9 L402.7,392.9 L403.3,392.9 L403.9,392.9 L404.5,393.0 L405.1,393.0 L405.7,393.0 L406.3,393.0 L406.9,393.0 L407.5,393.0 L408.2,393.0 L408.8,393.0 L409.4,393.0 L410.0,393.0 L410.6,393.1 L411.2,393.1 L411.8,393.1 L412.4,393.1 L413.0,393.1 L413.6,393.1 L414.3,393.1 L414.9,393.1 L415.5,393.1 L416.1,393.1 L416.7,393.1 L417.3,393.2 L417.9,393.2 L418.5,393.2 L419.1,393.2 L419.7,393.2 L420.4,393.2 L421.0,393.2 L421.6,393.2 L422.2,393.2 L422.8,393.2 L423.4,393.2 L424.0,393.2 L424.6,393.2 L425.2,393.3 L425.8,393.3 L426.5,393.3 L427.1,393.3 L427.7,393.3 L428.3,393.3 L428.9,393.3 L429.5,393.3 L430.1,393.3 L430.7,393.3 L431.3,393.3 L431.9,393.3 L432.5,393.3 L433.2,393.3 L433.8,393.3 L434.4,393.4 L435.0,393.4 L435.6,393.4 L436.2,393.4 L436.8,393.4 L437.4,393.4 L438.0,393.4 L438.6,393.4 L439.3,393.4 L439.9,393.4 L440.5,393.4 L441.1,393.4 L441.7,393.4 L442.3,393.4 L442.9,393.4 L443.5,393.4 L444.1,393.4 L444.7,393.5 L445.4,393.5 L446.0,393.5 L446.6,393.5 L447.2,393.5 L447.8,393.5 L448.4,393.5 L449.0,393.5 L449.6,393.5 L450.2,393.5 L450.8,393.5 L451.5,393.5 L452.1,393.5 L452.7,393.5 L453.3,393.5 L453.9,393.5 L454.5,393.5 L455.1,393.5 L455.7,393.5 L456.3,393.6 L456.9,393.6 L457.5,393.6 L458.2,393.6 L458.8,393.6 L459.4,393.6 L460.0,393.6 L460.6,393.6 L461.2,393.6 L461.8,393.6 L462.4,393.6 L463.0,393.6 L463.6,393.6 L464.3,393.6 L464.9,393.6 L465.5,393.6 L466.1,393.6 L466.7,393.6 L467.3,393.6 L467.9,393.6 L468.5,393.6 L469.1,393.6 L469.7,393.6 L470.4,393.6 L471.0,393.7 L471.6,393.7 L472.2,393.7 L472.8,393.7 L473.4,393.7 L474.0,393.7 L474.6,393.7 L475.2,393.7 L475.8,393.7 L476.5,393.7 L477.1,393.7 L477.7,393.7 L478.3,393.7 L478.9,393.7 L479.5,393.7 L480.1,393.7 L480.7,393.7 L481.3,393.7 L481.9,393.7 L482.5,393.7 L483.2,393.7 L483.8,393.7 L484.4,393.7 L485.0,393.7 L485.6,393.7 L486.2,393.7 L486.8,393.7 L487.4,393.7 L488.0,393.7 L488.6,393.8 L489.3,393.8 L489.9,393.8 L490.5,393.8 L491.1,393.8 L491.7,393.8 L492.3,393.8 L492.9,393.8 L493.5,393.8 L494.1,393.8 L494.7,393.8 L495.4,393.8 L496.0,393.8 L496.6,393.8 L497.2,393.8 L497.8,393.8 L498.4,393.8 L499.0,393.8 L499.6,393.8 L500.2,393.8 L500.8,393.8 L501.5,393.8 L502.1,393.8 L502.7,393.8 L503.3,393.8 L503.9,393.8 L504.5,393.8 L505.1,393.8 L505.7,393.8 L506.3,393.8 L506.9,393.8 L507.5,393.8 L508.2,393.8 L508.8,393.8 L509.4,393.8 L510.0,393.8 L510.6,393.9 L511.2,393.9 L511.8,393.9 L512.4,393.9 L513.0,393.9 L513.6,393.9 L514.3,393.9 L514.9,393.9 L515.5,393.9 L516.1,393.9 L516.7,393.9 L517.3,393.9 L517.9,393.9 L518.5,393.9 L519.1,393.9 L519.7,393.9 L520.4,393.9 L521.0,393.9 L521.6,393.9 L522.2,393.9 L522.8,393.9 L523.4,393.9 L524.0,393.9 L524.6,393.9 L525.2,393.9 L525.8,393.9 L526.5,393.9 L527.1,393.9 L527.7,393.9 L528.3,393.9 L528.9,393.9 L529.5,393.9" fill="none" stroke="#000" stroke-width="2.2" stroke-dasharray="9.5,8.5" stroke-dashoffset="12.03"/>
<path d="M42.3,394.0 L42.9,394.0 L43.5,394.0 L44.1,394.0 L44.7,394.0 L45.3,394.0 L46.0,394.0 L46.6,394.0 L47.2,394.0 L47.8,394.0 L48.4,394.0 L49.0,394.0 L49.6,394.0 L50.2,394.0 L50.8,394.0 L51.4,394.0 L52.1,394.0 L52.7,394.0 L53.3,394.0 L53.9,394.0 L54.5,394.0 L55.1,394.0 L55.7,394.0 L56.3,394.0 L56.9,394.0 L57.5,394.0 L58.2,394.0 L58.8,393.9 L59.4,393.9 L60.0,393.9 L60.6,393.9 L61.2,393.9 L61.8,393.9 L62.4,393.9 L63.0,393.9 L63.6,393.9 L64.3,393.9 L64.9,393.9 L65.5,393.9 L66.1,393.9 L66.7,393.9 L67.3,393.9 L67.9,393.9 L68.5,393.9 L69.1,393.9 L69.7,393.9 L70.3,393.9 L71.0,393.9 L71.6,393.9 L72.2,393.9 L72.8,393.9 L73.4,393.9 L74.0,393.9 L74.6,393.9 L75.2,393.9 L75.8,393.9 L76.4,393.9 L77.1,393.9 L77.7,393.9 L78.3,393.9 L78.9,393.9 L79.5,393.9 L80.1,393.9 L80.7,393.9 L81.3,393.9 L81.9,393.9 L82.5,393.8 L83.2,393.8 L83.8,393.8 L84.4,393.8 L85.0,393.8 L85.6,393.8 L86.2,393.8 L86.8,393.8 L87.4,393.8 L88.0,393.8 L88.6,393.8 L89.3,393.8 L89.9,393.8 L90.5,393.8 L91.1,393.8 L91.7,393.8 L92.3,393.8 L92.9,393.8 L93.5,393.8 L94.1,393.8 L94.7,393.8 L95.3,393.8 L96.0,393.8 L96.6,393.8 L97.2,393.8 L97.8,393.8 L98.4,393.8 L99.0,393.8 L99.6,393.8 L100.2,393.8 L100.8,393.7 L101.4,393.7 L102.1,393.7 L102.7,393.7 L103.3,393.7 L103.9,393.7 L104.5,393.7 L105.1,393.7 L105.7,393.7 L106.3,393.7 L106.9,393.7 L107.5,393.7 L108.2,393.7 L108.8,393.7 L109.4,393.7 L110.0,393.7 L110.6,393.7 L111.2,393.7 L111.8,393.7 L112.4,393.7 L113.0,393.7 L113.6,393.7 L114.3,393.7 L114.9,393.7 L115.5,393.6 L116.1,393.6 L116.7,393.6 L117.3,393.6 L117.9,393.6 L118.5,393.6 L119.1,393.6 L119.7,393.6 L120.3,393.6 L121.0,393.6 L121.6,393.6 L122.2,393.6 L122.8,393.6 L123.4,393.6 L124.0,393.6 L124.6,393.6 L125.2,393.6 L125.8,393.6 L126.4,393.6 L127.1,393.5 L127.7,393.5 L128.3,393.5 L128.9,393.5 L129.5,393.5 L130.1,393.5 L130.7,393.5 L131.3,393.5 L131.9,393.5 L132.5,393.5 L133.2,393.5 L133.8,393.5 L134.4,393.5 L135.0,393.5 L135.6,393.5 L136.2,393.5 L136.8,393.4 L137.4,393.4 L138.0,393.4 L138.6,393.4 L139.3,393.4 L139.9,393.4 L140.5,393.4 L141.1,393.4 L141.7,393.4 L142.3,393.4 L142.9,393.4 L143.5,393.4 L144.1,393.4 L144.7,393.4 L145.3,393.3 L146.0,393.3 L146.6,393.3 L147.2,393.3 L147.8,393.3 L148.4,393.3 L149.0,393.3 L149.6,393.3 L150.2,393.3 L150.8,393.3 L151.4,393.3 L152.1,393.3 L152.7,393.2 L153.3,393.2 L153.9,393.2 L154.5,393.2 L155.1,393.2 L155.7,393.2 L156.3,393.2 L156.9,393.2 L157.5,393.2 L158.2,393.2 L158.8,393.2 L159.4,393.1 L160.0,393.1 L160.6,393.1 L161.2,393.1 L161.8,393.1 L162.4,393.1 L163.0,393.1 L163.6,393.1 L164.3,393.1 L164.9,393.0 L165.5,393.0 L166.1,393.0 L166.7,393.0 L167.3,393.0 L167.9,393.0 L168.5,393.0 L169.1,393.0 L169.7,392.9 L170.4,392.9 L171.0,392.9 L171.6,392.9 L172.2,392.9 L172.8,392.9 L173.4,392.9 L174.0,392.9 L174.6,392.8 L175.2,392.8 L175.8,392.8 L176.4,392.8 L177.1,392.8 L177.7,392.8 L178.3,392.8 L178.9,392.7 L179.5,392.7 L180.1,392.7 L180.7,392.7 L181.3,392.7 L181.9,392.7 L182.5,392.6 L183.2,392.6 L183.8,392.6 L184.4,392.6 L185.0,392.6 L185.6,392.6 L186.2,392.5 L186.8,392.5 L187.4,392.5 L188.0,392.5 L188.6,392.5 L189.3,392.4 L189.9,392.4 L190.5,392.4 L191.1,392.4 L191.7,392.4 L192.3,392.3 L192.9,392.3 L193.5,392.3 L194.1,392.3 L194.7,392.2 L195.4,392.2 L196.0,392.2 L196.6,392.2 L197.2,392.2 L197.8,392.1 L198.4,392.1 L199.0,392.1 L199.6,392.1 L200.2,392.0 L200.8,392.0 L201.4,392.0 L202.1,391.9 L202.7,391.9 L203.3,391.9 L203.9,391.9 L204.5,391.8 L205.1,391.8 L205.7,391.8 L206.3,391.7 L206.9,391.7 L207.5,391.7 L208.2,391.6 L208.8,391.6 L209.4,391.6 L210.0,391.5 L210.6,391.5 L211.2,391.5 L211.8,391.4 L212.4,391.4 L213.0,391.4 L213.6,391.3 L214.3,391.3 L214.9,391.2 L215.5,391.2 L216.1,391.2 L216.7,391.1 L217.3,391.1 L217.9,391.0 L218.5,391.0 L219.1,391.0 L219.7,390.9 L220.4,390.9 L221.0,390.8 L221.6,390.8 L222.2,390.7 L222.8,390.7 L223.4,390.6 L224.0,390.6 L224.6,390.5 L225.2,390.4 L225.8,390.4 L226.4,390.3 L227.1,390.3 L227.7,390.2 L228.3,390.1 L228.9,390.1 L229.5,390.0 L230.1,390.0 L230.7,389.9 L231.3,389.8 L231.9,389.7 L232.5,389.7 L233.2,389.6 L233.8,389.5 L234.4,389.4 L235.0,389.4 L235.6,389.3 L236.2,389.2 L236.8,389.1 L237.4,389.0 L238.0,388.9 L238.6,388.9 L239.3,388.8 L239.9,388.7 L240.5,388.6 L241.1,388.5 L241.7,388.4 L242.3,388.3 L242.9,388.1 L243.5,388.0 L244.1,387.9 L244.7,387.8 L245.4,387.7 L246.0,387.6 L246.6,387.4 L247.2,387.3 L247.8,387.2 L248.4,387.0 L249.0,386.9 L249.6,386.7 L250.2,386.6 L250.8,386.4 L251.4,386.3 L252.1,386.1 L252.7,385.9 L253.3,385.8 L253.9,385.6 L254.5,385.4 L255.1,385.2 L255.7,385.0 L256.3,384.8 L256.9,384.6 L257.5,384.4 L258.2,384.2 L258.8,383.9 L259.4,383.7 L260.0,383.4 L260.6,383.2 L261.2,382.9 L261.8,382.7 L262.4,382.4 L263.0,382.1 L263.6,381.8 L264.3,381.5 L264.9,381.2 L265.5,380.8 L266.1,380.5 L266.7,380.1 L267.3,379.7 L267.9,379.4 L268.5,379.0 L269.1,378.5 L269.7,378.1 L270.4,377.7 L271.0,377.2 L271.6,376.7 L272.2,376.2 L272.8,375.7 L273.4,375.1 L274.0,374.6 L274.6,374.0 L275.2,373.4 L275.8,372.7 L276.4,372.1 L277.1,371.4 L277.7,370.6 L278.3,369.9 L278.9,369.1 L279.5,368.3 L280.1,367.4 L280.7,366.5 L281.3,365.6 L281.9,364.6 L282.5,363.6 L283.2,362.5 L283.8,361.4 L284.4,360.2 L285.0,359.0 L285.6,357.7 L286.2,356.4 L286.8,355.0 L287.4,353.5 L288.0,352.0 L288.6,350.4 L289.3,348.8 L289.9,347.0 L290.5,345.2 L291.1,343.4 L291.7,341.4 L292.3,339.4 L292.9,337.3 L293.5,335.1 L294.1,332.9 L294.7,330.6 L295.4,328.2 L296.0,325.8 L296.6,323.3 L297.2,320.8 L297.8,318.3 L298.4,315.7 L299.0,313.1 L299.6,310.6 L300.2,308.0 L300.8,305.5 L301.4,303.1 L302.1,300.8 L302.7,298.6 L303.3,296.6 L303.9,294.7 L304.5,293.1 L305.1,291.6 L305.7,290.4 L306.3,289.5 L306.9,288.8 L307.5,288.5 L308.2,288.4 L308.8,288.6 L309.4,289.0 L310.0,289.7 L310.6,290.6 L311.2,291.7 L311.8,293.0 L312.4,294.4 L313.0,296.1 L313.6,297.9 L314.3,299.8 L314.9,301.9 L315.5,304.0 L316.1,306.2 L316.7,308.4 L317.3,310.7 L317.9,313.1 L318.5,315.4 L319.1,317.7 L319.7,320.0 L320.4,322.3 L321.0,324.6 L321.6,326.8 L322.2,329.0 L322.8,331.1 L323.4,333.2 L324.0,335.2 L324.6,337.2 L325.2,339.1 L325.8,340.9 L326.4,342.7 L327.1,344.4 L327.7,346.1 L328.3,347.7 L328.9,349.2 L329.5,350.7 L330.1,352.1 L330.7,353.5 L331.3,354.8 L331.9,356.1 L332.5,357.3 L333.2,358.5 L333.8,359.6 L334.4,360.7 L335.0,361.8 L335.6,362.8 L336.2,363.7 L336.8,364.6 L337.4,365.5 L338.0,366.4 L338.6,367.2 L339.3,368.0 L339.9,368.8 L340.5,369.5 L341.1,370.2 L341.7,370.9 L342.3,371.5 L342.9,372.1 L343.5,372.7 L344.1,373.3 L344.7,373.9 L345.4,374.4 L346.0,374.9 L346.6,375.4 L347.2,375.9 L347.8,376.4 L348.4,376.8 L349.0,377.3 L349.6,377.7 L350.2,378.1 L350.8,378.5 L351.4,378.9 L352.1,379.2 L352.7,379.6 L353.3,379.9 L353.9,380.3 L354.5,380.6 L355.1,380.9 L355.7,381.2 L356.3,381.5 L356.9,381.8 L357.5,382.0 L358.2,382.3 L358.8,382.6 L359.4,382.8 L360.0,383.1 L360.6,383.3 L361.2,383.5 L361.8,383.7 L362.4,383.9 L363.0,384.2 L363.6,384.4 L364.3,384.6 L364.9,384.7 L365.5,384.9 L366.1,385.1 L366.7,385.3 L367.3,385.5 L367.9,385.6 L368.5,385.8 L369.1,385.9 L369.7,386.1 L370.4,386.2 L371.0,386.4 L371.6,386.5 L372.2,386.7 L372.8,386.8 L373.4,386.9 L374.0,387.1 L374.6,387.2 L375.2,387.3 L375.8,387.4 L376.4,387.5 L377.1,387.7 L377.7,387.8 L378.3,387.9 L378.9,388.0 L379.5,388.1 L380.1,388.2 L380.7,388.3 L381.3,388.4 L381.9,388.5 L382.5,388.6 L383.2,388.6 L383.8,388.7 L384.4,388.8 L385.0,388.9 L385.6,389.0 L386.2,389.1 L386.8,389.1 L387.4,389.2 L388.0,389.3 L388.6,389.4 L389.3,389.4 L389.9,389.5 L390.5,389.6 L391.1,389.6 L391.7,389.7 L392.3,389.8 L392.9,389.8 L393.5,389.9 L394.1,390.0 L394.7,390.0 L395.4,390.1 L396.0,390.1 L396.6,390.2 L397.2,390.3 L397.8,390.3 L398.4,390.4 L399.0,390.4 L399.6,390.5 L400.2,390.5 L400.8,390.6 L401.4,390.6 L402.1,390.7 L402.7,390.7 L403.3,390.7 L403.9,390.8 L404.5,390.8 L405.1,390.9 L405.7,390.9 L406.3,391.0 L406.9,391.0 L407.5,391.0 L408.2,391.1 L408.8,391.1 L409.4,391.2 L410.0,391.2 L410.6,391.2 L411.2,391.3 L411.8,391.3 L412.4,391.3 L413.0,391.4 L413.6,391.4 L414.3,391.4 L414.9,391.5 L415.5,391.5 L416.1,391.5 L416.7,391.6 L417.3,391.6 L417.9,391.6 L418.5,391.7 L419.1,391.7 L419.7,391.7 L420.4,391.7 L421.0,391.8 L421.6,391.8 L422.2,391.8 L422.8,391.9 L423.4,391.9 L424.0,391.9 L424.6,391.9 L425.2,392.0 L425.8,392.0 L426.5,392.0 L427.1,392.0 L427.7,392.1 L428.3,392.1 L428.9,392.1 L429.5,392.1 L430.1,392.1 L430.7,392.2 L431.3,392.2 L431.9,392.2 L432.5,392.2 L433.2,392.3 L433.8,392.3 L434.4,392.3 L435.0,392.3 L435.6,392.3 L436.2,392.4 L436.8,392.4 L437.4,392.4 L438.0,392.4 L438.6,392.4 L439.3,392.4 L439.9,392.5 L440.5,392.5 L441.1,392.5 L441.7,392.5 L442.3,392.5 L442.9,392.5 L443.5,392.6 L444.1,392.6 L444.7,392.6 L445.4,392.6 L446.0,392.6 L446.6,392.6 L447.2,392.7 L447.8,392.7 L448.4,392.7 L449.0,392.7 L449.6,392.7 L450.2,392.7 L450.8,392.7 L451.5,392.8 L452.1,392.8 L452.7,392.8 L453.3,392.8 L453.9,392.8 L454.5,392.8 L455.1,392.8 L455.7,392.8 L456.3,392.9 L456.9,392.9 L457.5,392.9 L458.2,392.9 L458.8,392.9 L459.4,392.9 L460.0,392.9 L460.6,392.9 L461.2,393.0 L461.8,393.0 L462.4,393.0 L463.0,393.0 L463.6,393.0 L464.3,393.0 L464.9,393.0 L465.5,393.0 L466.1,393.0 L466.7,393.1 L467.3,393.1 L467.9,393.1 L468.5,393.1 L469.1,393.1 L469.7,393.1 L470.4,393.1 L471.0,393.1 L471.6,393.1 L472.2,393.1 L472.8,393.2 L473.4,393.2 L474.0,393.2 L474.6,393.2 L475.2,393.2 L475.8,393.2 L476.5,393.2 L477.1,393.2 L477.7,393.2 L478.3,393.2 L478.9,393.2 L479.5,393.2 L480.1,393.3 L480.7,393.3 L481.3,393.3 L481.9,393.3 L482.5,393.3 L483.2,393.3 L483.8,393.3 L484.4,393.3 L485.0,393.3 L485.6,393.3 L486.2,393.3 L486.8,393.3 L487.4,393.3 L488.0,393.4 L488.6,393.4 L489.3,393.4 L489.9,393.4 L490.5,393.4 L491.1,393.4 L491.7,393.4 L492.3,393.4 L492.9,393.4 L493.5,393.4 L494.1,393.4 L494.7,393.4 L495.4,393.4 L496.0,393.4 L496.6,393.4 L497.2,393.4 L497.8,393.5 L498.4,393.5 L499.0,393.5 L499.6,393.5 L500.2,393.5 L500.8,393.5 L501.5,393.5 L502.1,393.5 L502.7,393.5 L503.3,393.5 L503.9,393.5 L504.5,393.5 L505.1,393.5 L505.7,393.5 L506.3,393.5 L506.9,393.5 L507.5,393.5 L508.2,393.5 L508.8,393.6 L509.4,393.6 L510.0,393.6 L510.6,393.6 L511.2,393.6 L511.8,393.6 L512.4,393.6 L513.0,393.6 L513.6,393.6 L514.3,393.6 L514.9,393.6 L515.5,393.6 L516.1,393.6 L516.7,393.6 L517.3,393.6 L517.9,393.6 L518.5,393.6 L519.1,393.6 L519.7,393.6 L520.4,393.6 L521.0,393.6 L521.6,393.7 L522.2,393.7 L522.8,393.7 L523.4,393.7 L524.0,393.7 L524.6,393.7 L525.2,393.7 L525.8,393.7 L526.5,393.7 L527.1,393.7 L527.7,393.7 L528.3,393.7 L528.9,393.7 L529.5,393.7" fill="none" stroke="#000" stroke-width="2.2" stroke-dasharray="9.5,8.5" stroke-dashoffset="9.47"/>
<path d="M42.3,392.9 L42.9,392.9 L43.5,392.9 L44.1,392.9 L44.7,392.8 L45.3,392.8 L46.0,392.8 L46.6,392.8 L47.2,392.8 L47.8,392.8 L48.4,392.8 L49.0,392.8 L49.6,392.8 L50.2,392.8 L50.8,392.7 L51.4,392.7 L52.1,392.7 L52.7,392.7 L53.3,392.7 L53.9,392.7 L54.5,392.7 L55.1,392.7 L55.7,392.7 L56.3,392.7 L56.9,392.6 L57.5,392.6 L58.2,392.6 L58.8,392.6 L59.4,392.6 L60.0,392.6 L60.6,392.6 L61.2,392.6 L61.8,392.5 L62.4,392.5 L63.0,392.5 L63.6,392.5 L64.3,392.5 L64.9,392.5 L65.5,392.5 L66.1,392.5 L66.7,392.4 L67.3,392.4 L67.9,392.4 L68.5,392.4 L69.1,392.4 L69.7,392.4 L70.3,392.4 L71.0,392.4 L71.6,392.3 L72.2,392.3 L72.8,392.3 L73.4,392.3 L74.0,392.3 L74.6,392.3 L75.2,392.3 L75.8,392.2 L76.4,392.2 L77.1,392.2 L77.7,392.2 L78.3,392.2 L78.9,392.2 L79.5,392.1 L80.1,392.1 L80.7,392.1 L81.3,392.1 L81.9,392.1 L82.5,392.1 L83.2,392.0 L83.8,392.0 L84.4,392.0 L85.0,392.0 L85.6,392.0 L86.2,392.0 L86.8,391.9 L87.4,391.9 L88.0,391.9 L88.6,391.9 L89.3,391.9 L89.9,391.8 L90.5,391.8 L91.1,391.8 L91.7,391.8 L92.3,391.8 L92.9,391.7 L93.5,391.7 L94.1,391.7 L94.7,391.7 L95.3,391.7 L96.0,391.6 L96.6,391.6 L97.2,391.6 L97.8,391.6 L98.4,391.5 L99.0,391.5 L99.6,391.5 L100.2,391.5 L100.8,391.4 L101.4,391.4 L102.1,391.4 L102.7,391.4 L103.3,391.3 L103.9,391.3 L104.5,391.3 L105.1,391.3 L105.7,391.2 L106.3,391.2 L106.9,391.2 L107.5,391.2 L108.2,391.1 L108.8,391.1 L109.4,391.1 L110.0,391.0 L110.6,391.0 L111.2,391.0 L111.8,391.0 L112.4,390.9 L113.0,390.9 L113.6,390.9 L114.3,390.8 L114.9,390.8 L115.5,390.8 L116.1,390.7 L116.7,390.7 L117.3,390.7 L117.9,390.6 L118.5,390.6 L119.1,390.5 L119.7,390.5 L120.3,390.5 L121.0,390.4 L121.6,390.4 L122.2,390.4 L122.8,390.3 L123.4,390.3 L124.0,390.2 L124.6,390.2 L125.2,390.2 L125.8,390.1 L126.4,390.1 L127.1,390.0 L127.7,390.0 L128.3,389.9 L128.9,389.9 L129.5,389.8 L130.1,389.8 L130.7,389.7 L131.3,389.7 L131.9,389.6 L132.5,389.6 L133.2,389.5 L133.8,389.5 L134.4,389.4 L135.0,389.4 L135.6,389.3 L136.2,389.3 L136.8,389.2 L137.4,389.1 L138.0,389.1 L138.6,389.0 L139.3,389.0 L139.9,388.9 L140.5,388.8 L141.1,388.8 L141.7,388.7 L142.3,388.6 L142.9,388.6 L143.5,388.5 L144.1,388.4 L144.7,388.4 L145.3,388.3 L146.0,388.2 L146.6,388.1 L147.2,388.1 L147.8,388.0 L148.4,387.9 L149.0,387.8 L149.6,387.7 L150.2,387.6 L150.8,387.6 L151.4,387.5 L152.1,387.4 L152.7,387.3 L153.3,387.2 L153.9,387.1 L154.5,387.0 L155.1,386.9 L155.7,386.8 L156.3,386.7 L156.9,386.6 L157.5,386.5 L158.2,386.4 L158.8,386.2 L159.4,386.1 L160.0,386.0 L160.6,385.9 L161.2,385.8 L161.8,385.6 L162.4,385.5 L163.0,385.4 L163.6,385.2 L164.3,385.1 L164.9,384.9 L165.5,384.8 L166.1,384.7 L166.7,384.5 L167.3,384.3 L167.9,384.2 L168.5,384.0 L169.1,383.8 L169.7,383.7 L170.4,383.5 L171.0,383.3 L171.6,383.1 L172.2,382.9 L172.8,382.7 L173.4,382.5 L174.0,382.3 L174.6,382.1 L175.2,381.9 L175.8,381.7 L176.4,381.4 L177.1,381.2 L177.7,381.0 L178.3,380.7 L178.9,380.5 L179.5,380.2 L180.1,379.9 L180.7,379.6 L181.3,379.4 L181.9,379.1 L182.5,378.8 L183.2,378.4 L183.8,378.1 L184.4,377.8 L185.0,377.4 L185.6,377.1 L186.2,376.7 L186.8,376.3 L187.4,376.0 L188.0,375.6 L188.6,375.1 L189.3,374.7 L189.9,374.3 L190.5,373.8 L191.1,373.3 L191.7,372.8 L192.3,372.3 L192.9,371.8 L193.5,371.3 L194.1,370.7 L194.7,370.1 L195.4,369.5 L196.0,368.9 L196.6,368.3 L197.2,367.6 L197.8,366.9 L198.4,366.2 L199.0,365.4 L199.6,364.6 L200.2,363.8 L200.8,363.0 L201.4,362.1 L202.1,361.2 L202.7,360.3 L203.3,359.3 L203.9,358.2 L204.5,357.2 L205.1,356.1 L205.7,354.9 L206.3,353.7 L206.9,352.5 L207.5,351.1 L208.2,349.8 L208.8,348.4 L209.4,346.9 L210.0,345.3 L210.6,343.7 L211.2,342.1 L211.8,340.3 L212.4,338.5 L213.0,336.6 L213.6,334.6 L214.3,332.6 L214.9,330.4 L215.5,328.2 L216.1,325.9 L216.7,323.5 L217.3,321.0 L217.9,318.4 L218.5,315.7 L219.1,312.9 L219.7,310.1 L220.4,307.1 L221.0,304.1 L221.6,301.0 L222.2,297.8 L222.8,294.6 L223.4,291.3 L224.0,287.9 L224.6,284.6 L225.2,281.2 L225.8,277.8 L226.4,274.5 L227.1,271.2 L227.7,268.0 L228.3,264.9 L228.9,261.9 L229.5,259.1 L230.1,256.5 L230.7,254.1 L231.3,252.0 L231.9,250.2 L232.5,248.6 L233.2,247.4 L233.8,246.5 L234.4,246.0 L235.0,245.9 L235.6,246.1 L236.2,246.7 L236.8,247.6 L237.4,248.8 L238.0,250.4 L238.6,252.3 L239.3,254.4 L239.9,256.7 L240.5,259.3 L241.1,262.0 L241.7,264.9 L242.3,267.9 L242.9,271.0 L243.5,274.2 L244.1,277.3 L244.7,280.5 L245.4,283.7 L246.0,286.9 L246.6,290.1 L247.2,293.1 L247.8,296.2 L248.4,299.1 L249.0,302.0 L249.6,304.8 L250.2,307.5 L250.8,310.1 L251.4,312.6 L252.1,315.0 L252.7,317.3 L253.3,319.6 L253.9,321.7 L254.5,323.7 L255.1,325.7 L255.7,327.5 L256.3,329.3 L256.9,331.0 L257.5,332.6 L258.2,334.1 L258.8,335.5 L259.4,336.9 L260.0,338.2 L260.6,339.4 L261.2,340.5 L261.8,341.6 L262.4,342.6 L263.0,343.6 L263.6,344.5 L264.3,345.3 L264.9,346.1 L265.5,346.8 L266.1,347.5 L266.7,348.1 L267.3,348.6 L267.9,349.1 L268.5,349.6 L269.1,350.0 L269.7,350.4 L270.4,350.7 L271.0,351.0 L271.6,351.2 L272.2,351.4 L272.8,351.5 L273.4,351.6 L274.0,351.6 L274.6,351.6 L275.2,351.6 L275.8,351.5 L276.4,351.4 L277.1,351.2 L277.7,350.9 L278.3,350.7 L278.9,350.3 L279.5,350.0 L280.1,349.5 L280.7,349.0 L281.3,348.5 L281.9,347.9 L282.5,347.3 L283.2,346.6 L283.8,345.8 L284.4,345.0 L285.0,344.1 L285.6,343.1 L286.2,342.1 L286.8,341.0 L287.4,339.8 L288.0,338.6 L288.6,337.3 L289.3,335.9 L289.9,334.4 L290.5,332.9 L291.1,331.2 L291.7,329.5 L292.3,327.7 L292.9,325.9 L293.5,323.9 L294.1,321.9 L294.7,319.8 L295.4,317.6 L296.0,315.4 L296.6,313.1 L297.2,310.8 L297.8,308.4 L298.4,306.0 L299.0,303.6 L299.6,301.2 L300.2,298.9 L300.8,296.5 L301.4,294.3 L302.1,292.1 L302.7,290.1 L303.3,288.2 L303.9,286.5 L304.5,284.9 L305.1,283.6 L305.7,282.6 L306.3,281.7 L306.9,281.2 L307.5,281.0 L308.2,281.0 L308.8,281.3 L309.4,281.8 L310.0,282.6 L310.6,283.6 L311.2,284.8 L311.8,286.2 L312.4,287.8 L313.0,289.5 L313.6,291.4 L314.3,293.5 L314.9,295.6 L315.5,297.8 L316.1,300.1 L316.7,302.5 L317.3,304.8 L317.9,307.2 L318.5,309.7 L319.1,312.1 L319.7,314.5 L320.4,316.8 L321.0,319.2 L321.6,321.5 L322.2,323.7 L322.8,325.9 L323.4,328.0 L324.0,330.1 L324.6,332.2 L325.2,334.1 L325.8,336.0 L326.4,337.9 L327.1,339.7 L327.7,341.4 L328.3,343.0 L328.9,344.6 L329.5,346.2 L330.1,347.7 L330.7,349.1 L331.3,350.5 L331.9,351.8 L332.5,353.1 L333.2,354.3 L333.8,355.5 L334.4,356.6 L335.0,357.7 L335.6,358.7 L336.2,359.8 L336.8,360.7 L337.4,361.7 L338.0,362.6 L338.6,363.4 L339.3,364.3 L339.9,365.1 L340.5,365.8 L341.1,366.6 L341.7,367.3 L342.3,368.0 L342.9,368.6 L343.5,369.3 L344.1,369.9 L344.7,370.5 L345.4,371.1 L346.0,371.6 L346.6,372.2 L347.2,372.7 L347.8,373.2 L348.4,373.7 L349.0,374.1 L349.6,374.6 L350.2,375.0 L350.8,375.4 L351.4,375.9 L352.1,376.3 L352.7,376.6 L353.3,377.0 L353.9,377.4 L354.5,377.7 L355.1,378.1 L355.7,378.4 L356.3,378.7 L356.9,379.0 L357.5,379.3 L358.2,379.6 L358.8,379.9 L359.4,380.2 L360.0,380.4 L360.6,380.7 L361.2,380.9 L361.8,381.2 L362.4,381.4 L363.0,381.6 L363.6,381.9 L364.3,382.1 L364.9,382.3 L365.5,382.5 L366.1,382.7 L366.7,382.9 L367.3,383.1 L367.9,383.3 L368.5,383.5 L369.1,383.7 L369.7,383.8 L370.4,384.0 L371.0,384.2 L371.6,384.3 L372.2,384.5 L372.8,384.6 L373.4,384.8 L374.0,384.9 L374.6,385.1 L375.2,385.2 L375.8,385.3 L376.4,385.5 L377.1,385.6 L377.7,385.7 L378.3,385.9 L378.9,386.0 L379.5,386.1 L380.1,386.2 L380.7,386.3 L381.3,386.4 L381.9,386.6 L382.5,386.7 L383.2,386.8 L383.8,386.9 L384.4,387.0 L385.0,387.1 L385.6,387.2 L386.2,387.3 L386.8,387.4 L387.4,387.4 L388.0,387.5 L388.6,387.6 L389.3,387.7 L389.9,387.8 L390.5,387.9 L391.1,388.0 L391.7,388.0 L392.3,388.1 L392.9,388.2 L393.5,388.3 L394.1,388.3 L394.7,388.4 L395.4,388.5 L396.0,388.5 L396.6,388.6 L397.2,388.7 L397.8,388.7 L398.4,388.8 L399.0,388.9 L399.6,388.9 L400.2,389.0 L400.8,389.1 L401.4,389.1 L402.1,389.2 L402.7,389.2 L403.3,389.3 L403.9,389.3 L404.5,389.4 L405.1,389.4 L405.7,389.5 L406.3,389.6 L406.9,389.6 L407.5,389.7 L408.2,389.7 L408.8,389.7 L409.4,389.8 L410.0,389.8 L410.6,389.9 L411.2,389.9 L411.8,390.0 L412.4,390.0 L413.0,390.1 L413.6,390.1 L414.3,390.2 L414.9,390.2 L415.5,390.2 L416.1,390.3 L416.7,390.3 L417.3,390.4 L417.9,390.4 L418.5,390.4 L419.1,390.5 L419.7,390.5 L420.4,390.5 L421.0,390.6 L421.6,390.6 L422.2,390.6 L422.8,390.7 L423.4,390.7 L424.0,390.7 L424.6,390.8 L425.2,390.8 L425.8,390.8 L426.5,390.9 L427.1,390.9 L427.7,390.9 L428.3,391.0 L428.9,391.0 L429.5,391.0 L430.1,391.1 L430.7,391.1 L431.3,391.1 L431.9,391.1 L432.5,391.2 L433.2,391.2 L433.8,391.2 L434.4,391.2 L435.0,391.3 L435.6,391.3 L436.2,391.3 L436.8,391.3 L437.4,391.4 L438.0,391.4 L438.6,391.4 L439.3,391.4 L439.9,391.5 L440.5,391.5 L441.1,391.5 L441.7,391.5 L442.3,391.6 L442.9,391.6 L443.5,391.6 L444.1,391.6 L444.7,391.6 L445.4,391.7 L446.0,391.7 L446.6,391.7 L447.2,391.7 L447.8,391.8 L448.4,391.8 L449.0,391.8 L449.6,391.8 L450.2,391.8 L450.8,391.8 L451.5,391.9 L452.1,391.9 L452.7,391.9 L453.3,391.9 L453.9,391.9 L454.5,392.0 L455.1,392.0 L455.7,392.0 L456.3,392.0 L456.9,392.0 L457.5,392.0 L458.2,392.1 L458.8,392.1 L459.4,392.1 L460.0,392.1 L460.6,392.1 L461.2,392.1 L461.8,392.2 L462.4,392.2 L463.0,392.2 L463.6,392.2 L464.3,392.2 L464.9,392.2 L465.5,392.2 L466.1,392.3 L466.7,392.3 L467.3,392.3 L467.9,392.3 L468.5,392.3 L469.1,392.3 L469.7,392.3 L470.4,392.4 L471.0,392.4 L471.6,392.4 L472.2,392.4 L472.8,392.4 L473.4,392.4 L474.0,392.4 L474.6,392.5 L475.2,392.5 L475.8,392.5 L476.5,392.5 L477.1,392.5 L477.7,392.5 L478.3,392.5 L478.9,392.5 L479.5,392.5 L480.1,392.6 L480.7,392.6 L481.3,392.6 L481.9,392.6 L482.5,392.6 L483.2,392.6 L483.8,392.6 L484.4,392.6 L485.0,392.6 L485.6,392.7 L486.2,392.7 L486.8,392.7 L487.4,392.7 L488.0,392.7 L488.6,392.7 L489.3,392.7 L489.9,392.7 L490.5,392.7 L491.1,392.7 L491.7,392.8 L492.3,392.8 L492.9,392.8 L493.5,392.8 L494.1,392.8 L494.7,392.8 L495.4,392.8 L496.0,392.8 L496.6,392.8 L497.2,392.8 L497.8,392.9 L498.4,392.9 L499.0,392.9 L499.6,392.9 L500.2,392.9 L500.8,392.9 L501.5,392.9 L502.1,392.9 L502.7,392.9 L503.3,392.9 L503.9,392.9 L504.5,392.9 L505.1,393.0 L505.7,393.0 L506.3,393.0 L506.9,393.0 L507.5,393.0 L508.2,393.0 L508.8,393.0 L509.4,393.0 L510.0,393.0 L510.6,393.0 L511.2,393.0 L511.8,393.0 L512.4,393.0 L513.0,393.0 L513.6,393.1 L514.3,393.1 L514.9,393.1 L515.5,393.1 L516.1,393.1 L516.7,393.1 L517.3,393.1 L517.9,393.1 L518.5,393.1 L519.1,393.1 L519.7,393.1 L520.4,393.1 L521.0,393.1 L521.6,393.1 L522.2,393.2 L522.8,393.2 L523.4,393.2 L524.0,393.2 L524.6,393.2 L525.2,393.2 L525.8,393.2 L526.5,393.2 L527.1,393.2 L527.7,393.2 L528.3,393.2 L528.9,393.2 L529.5,393.2" fill="none" stroke="#000" stroke-width="2.4"/>
</g>
<rect x="42.3" y="7.3" width="487.2" height="390.1" fill="none" stroke="#000" stroke-width="2"/>
<line x1="42.3" y1="202.35" x2="529.5" y2="202.35" stroke="#000" stroke-width="2"/>
<path d="M91.0,202.35v-4.8M91.0,397.4v-4.8M139.7,202.35v-7.2M139.7,397.4v-7.2M188.5,202.35v-4.8M188.5,397.4v-4.8M237.2,202.35v-7.2M237.2,397.4v-7.2M285.9,202.35v-4.8M285.9,397.4v-4.8M334.6,202.35v-7.2M334.6,397.4v-7.2M383.3,202.35v-4.8M383.3,397.4v-4.8M432.1,202.35v-7.2M432.1,397.4v-7.2M480.8,202.35v-4.8M480.8,397.4v-4.8M42.3,39.2h3.8M42.3,71.1h3.8M42.3,103.0h3.8M42.3,134.9h3.8M42.3,166.8h3.8M42.3,234.2h3.8M42.3,266.1h3.8M42.3,298.0h3.8M42.3,329.9h3.8M42.3,361.9h3.8" stroke="#000" stroke-width="1.5" fill="none"/>
<g clip-path="url(#cr)">
<text x="42.0" y="420.6" font-family="Liberation Sans, Arial, sans-serif" font-size="17.8" font-weight="normal" font-style="normal" text-anchor="middle" fill="#000" stroke="#000" stroke-width="0.3">945</text>
<text x="139.4" y="420.6" font-family="Liberation Sans, Arial, sans-serif" font-size="17.8" font-weight="normal" font-style="normal" text-anchor="middle" fill="#000" stroke="#000" stroke-width="0.3">955</text>
<text x="236.9" y="420.6" font-family="Liberation Sans, Arial, sans-serif" font-size="17.8" font-weight="normal" font-style="normal" text-anchor="middle" fill="#000" stroke="#000" stroke-width="0.3">965</text>
<text x="334.3" y="420.6" font-family="Liberation Sans, Arial, sans-serif" font-size="17.8" font-weight="normal" font-style="normal" text-anchor="middle" fill="#000" stroke="#000" stroke-width="0.3">975</text>
<text x="431.8" y="420.6" font-family="Liberation Sans, Arial, sans-serif" font-size="17.8" font-weight="normal" font-style="normal" text-anchor="middle" fill="#000" stroke="#000" stroke-width="0.3">985</text>
<text x="529.2" y="420.6" font-family="Liberation Sans, Arial, sans-serif" font-size="17.8" font-weight="normal" font-style="normal" text-anchor="middle" fill="#000" stroke="#000" stroke-width="0.3">995</text>
</g>
<text x="208.2" y="446.3" font-family="Liberation Sans, Arial, sans-serif" font-size="20.8" font-weight="normal" font-style="normal" text-anchor="start" fill="#000" textLength="158.6" lengthAdjust="spacingAndGlyphs" stroke="#000" stroke-width="0.3">Raman shift (cm</text>
<text x="367.8" y="437.6" font-family="Liberation Sans, Arial, sans-serif" font-size="12.8" font-weight="normal" font-style="normal" text-anchor="start" fill="#000" textLength="11" lengthAdjust="spacingAndGlyphs" stroke="#000" stroke-width="0.3">-1</text>
<text x="380.4" y="446.3" font-family="Liberation Sans, Arial, sans-serif" font-size="20.8" font-weight="normal" font-style="normal" text-anchor="start" fill="#000" textLength="8" lengthAdjust="spacingAndGlyphs" stroke="#000" stroke-width="0.3">)</text>
<g transform="translate(25.3,101.8) rotate(-90)">
<text x="-95.8" y="0" font-family="Liberation Sans, Arial, sans-serif" font-size="20.5" font-weight="normal" font-style="normal" text-anchor="start" fill="#000" textLength="191" lengthAdjust="spacingAndGlyphs" stroke="#000" stroke-width="0.3">Intensity (arb.units)</text>
</g>
<g transform="translate(25.3,301.4) rotate(-90)">
<text x="-95.8" y="0" font-family="Liberation Sans, Arial, sans-serif" font-size="20.5" font-weight="normal" font-style="normal" text-anchor="start" fill="#000" textLength="191" lengthAdjust="spacingAndGlyphs" stroke="#000" stroke-width="0.3">Intensity (arb.units)</text>
</g>
<text x="55.7" y="38.4" font-family="Liberation Sans, Arial, sans-serif" font-size="18.3" font-weight="normal" font-style="normal" text-anchor="start" fill="#000" textLength="23" lengthAdjust="spacingAndGlyphs" stroke="#000" stroke-width="0.3">(a)</text>
<text x="55.7" y="237.0" font-family="Liberation Sans, Arial, sans-serif" font-size="18.3" font-weight="normal" font-style="normal" text-anchor="start" fill="#000" textLength="23" lengthAdjust="spacingAndGlyphs" stroke="#000" stroke-width="0.3">(b)</text>
<text x="392.3" y="38.3" font-family="Liberation Sans, Arial, sans-serif" font-size="16.4" font-weight="bold" font-style="normal" text-anchor="start" fill="#000" textLength="123.5" lengthAdjust="spacingAndGlyphs" >3C-SiC/4H-SiC</text>
<text x="419.6" y="60" font-family="Liberation Serif, serif" font-size="15" font-weight="bold" fill="#000" textLength="7.4" lengthAdjust="spacingAndGlyphs">λ</text>
<text x="427" y="60" font-family="Liberation Sans, Arial, sans-serif" font-size="13.8" font-weight="bold" font-style="normal" text-anchor="start" fill="#000" textLength="62" lengthAdjust="spacingAndGlyphs" >=532 nm</text>
<text x="426" y="82.2" font-family="Liberation Sans, Arial, sans-serif" font-size="14.2" font-weight="bold" font-style="italic" text-anchor="start" fill="#000" textLength="9.5" lengthAdjust="spacingAndGlyphs" >T</text>
<text x="435.3" y="82.2" font-family="Liberation Sans, Arial, sans-serif" font-size="14.2" font-weight="bold" font-style="normal" text-anchor="start" fill="#000" textLength="48.5" lengthAdjust="spacingAndGlyphs" >=300 K</text>
<text x="431.8" y="100.8" font-family="Liberation Sans, Arial, sans-serif" font-size="14.3" font-weight="bold" font-style="italic" text-anchor="start" fill="#000" textLength="46" lengthAdjust="spacingAndGlyphs" >z(xx)z</text>
<line x1="470.3" y1="87.7" x2="476.3" y2="87.7" stroke="#000" stroke-width="1.6"/>
<text x="408" y="160.5" font-family="Liberation Sans, Arial, sans-serif" font-size="14" font-weight="bold" font-style="italic" text-anchor="start" fill="#000" textLength="9" lengthAdjust="spacingAndGlyphs" >n</text>
<text x="417" y="160.5" font-family="Liberation Sans, Arial, sans-serif" font-size="14" font-weight="bold" font-style="normal" text-anchor="start" fill="#000" textLength="54.5" lengthAdjust="spacingAndGlyphs" >=6.0x10</text>
<text x="471.6" y="154.1" font-family="Liberation Sans, Arial, sans-serif" font-size="9.8" font-weight="bold" font-style="normal" text-anchor="start" fill="#000" textLength="10.4" lengthAdjust="spacingAndGlyphs" >17</text>
<text x="486" y="160.5" font-family="Liberation Sans, Arial, sans-serif" font-size="14" font-weight="bold" font-style="normal" text-anchor="start" fill="#000" textLength="22" lengthAdjust="spacingAndGlyphs" >cm</text>
<text x="508.3" y="154.1" font-family="Liberation Sans, Arial, sans-serif" font-size="9.8" font-weight="bold" font-style="normal" text-anchor="start" fill="#000" textLength="8.4" lengthAdjust="spacingAndGlyphs" >-3</text>
<text x="392.3" y="233.3" font-family="Liberation Sans, Arial, sans-serif" font-size="16.4" font-weight="bold" font-style="normal" text-anchor="start" fill="#000" textLength="123.5" lengthAdjust="spacingAndGlyphs" >3C-SiC/4H-SiC</text>
<text x="419.6" y="255" font-family="Liberation Serif, serif" font-size="15" font-weight="bold" fill="#000" textLength="7.4" lengthAdjust="spacingAndGlyphs">λ</text>
<text x="427" y="255" font-family="Liberation Sans, Arial, sans-serif" font-size="13.8" font-weight="bold" font-style="normal" text-anchor="start" fill="#000" textLength="62" lengthAdjust="spacingAndGlyphs" >=532 nm</text>
<text x="426" y="277.2" font-family="Liberation Sans, Arial, sans-serif" font-size="14.2" font-weight="bold" font-style="italic" text-anchor="start" fill="#000" textLength="9.5" lengthAdjust="spacingAndGlyphs" >T</text>
<text x="435.3" y="277.2" font-family="Liberation Sans, Arial, sans-serif" font-size="14.2" font-weight="bold" font-style="normal" text-anchor="start" fill="#000" textLength="48.5" lengthAdjust="spacingAndGlyphs" >=300 K</text>
<text x="431.8" y="295.8" font-family="Liberation Sans, Arial, sans-serif" font-size="14.3" font-weight="bold" font-style="italic" text-anchor="start" fill="#000" textLength="46" lengthAdjust="spacingAndGlyphs" >z(xx)z</text>
<line x1="470.3" y1="282.7" x2="476.3" y2="282.7" stroke="#000" stroke-width="1.6"/>
<text x="408" y="370.5" font-family="Liberation Sans, Arial, sans-serif" font-size="14" font-weight="bold" font-style="italic" text-anchor="start" fill="#000" textLength="9" lengthAdjust="spacingAndGlyphs" >n</text>
<text x="417" y="370.5" font-family="Liberation Sans, Arial, sans-serif" font-size="14" font-weight="bold" font-style="normal" text-anchor="start" fill="#000" textLength="54.5" lengthAdjust="spacingAndGlyphs" >=2.4x10</text>
<text x="471.6" y="364.1" font-family="Liberation Sans, Arial, sans-serif" font-size="9.8" font-weight="bold" font-style="normal" text-anchor="start" fill="#000" textLength="10.4" lengthAdjust="spacingAndGlyphs" >17</text>
<text x="486" y="370.5" font-family="Liberation Sans, Arial, sans-serif" font-size="14" font-weight="bold" font-style="normal" text-anchor="start" fill="#000" textLength="22" lengthAdjust="spacingAndGlyphs" >cm</text>
<text x="508.3" y="364.1" font-family="Liberation Sans, Arial, sans-serif" font-size="9.8" font-weight="bold" font-style="normal" text-anchor="start" fill="#000" textLength="8.4" lengthAdjust="spacingAndGlyphs" >-3</text>
<text x="185.5" y="60.4" font-family="Liberation Sans, Arial, sans-serif" font-size="16.8" font-weight="bold" font-style="italic" text-anchor="start" fill="#000" textLength="38" lengthAdjust="spacingAndGlyphs" >FLO</text>
<text x="192" y="84.4" font-family="Liberation Sans, Arial, sans-serif" font-size="16.8" font-weight="bold" font-style="normal" text-anchor="start" fill="#000" textLength="23.3" lengthAdjust="spacingAndGlyphs" >4H</text>
<text x="348.5" y="87.1" font-family="Liberation Sans, Arial, sans-serif" font-size="18.2" font-weight="bold" font-style="italic" text-anchor="start" fill="#000" textLength="52.5" lengthAdjust="spacingAndGlyphs" >LOPC</text>
<text x="352" y="112.7" font-family="Liberation Sans, Arial, sans-serif" font-size="17.6" font-weight="bold" font-style="normal" text-anchor="start" fill="#000" textLength="23" lengthAdjust="spacingAndGlyphs" >3C</text>
<text x="189.5" y="244.6" font-family="Liberation Sans, Arial, sans-serif" font-size="17.4" font-weight="bold" font-style="italic" text-anchor="start" fill="#000" textLength="38.2" lengthAdjust="spacingAndGlyphs" >FLO</text>
<text x="197.8" y="268.6" font-family="Liberation Sans, Arial, sans-serif" font-size="17" font-weight="bold" font-style="normal" text-anchor="start" fill="#000" textLength="22.8" lengthAdjust="spacingAndGlyphs" >4H</text>
<text x="322" y="269.7" font-family="Liberation Sans, Arial, sans-serif" font-size="17.8" font-weight="bold" font-style="italic" text-anchor="start" fill="#000" textLength="52.5" lengthAdjust="spacingAndGlyphs" >LOPC</text>
<text x="324" y="297.1" font-family="Liberation Sans, Arial, sans-serif" font-size="17.2" font-weight="bold" font-style="normal" text-anchor="start" fill="#000" textLength="22.5" lengthAdjust="spacingAndGlyphs" >3C</text>
</svg>
</body></html>
